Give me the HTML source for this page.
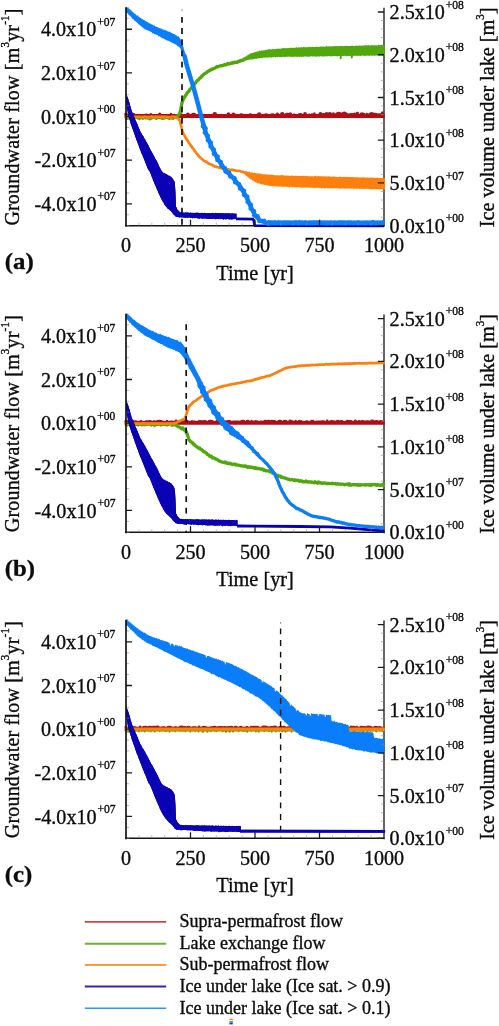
<!DOCTYPE html>
<html lang="en"><head><meta charset="utf-8"><title>Groundwater flow and ice volume under lake</title>
<style>html,body{margin:0;padding:0;background:#fff}body{width:499px;height:1026px;overflow:hidden}svg{display:block}text{white-space:pre;stroke:#0c0c0c;stroke-width:.34px}</style></head>
<body>
<svg width="499" height="1026" viewBox="0 0 499 1026" font-family="'Liberation Serif', 'Times New Roman', serif" fill="#0c0c0c">
<defs><clipPath id="clipP"><rect x="124.4" y="0" width="260.9" height="227.9"/></clipPath></defs>
<g transform="translate(0 0)">
<path d="M125.1 225.7H384.7" stroke="#141414" stroke-width="1.6" fill="none"/>
<path d="M384 7.8V226.6" stroke="#2a2a2a" stroke-width="1.45" fill="none"/>
<g clip-path="url(#clipP)">
<g fill="#b00d14"><rect x="124.6" y="113.95" width="260.2" height="4.1"/><ellipse cx="125.6" cy="114.15" rx="2.3" ry="1.41"/><ellipse cx="132.7" cy="114.15" rx="2.62" ry="1.34"/><ellipse cx="146.26" cy="114.15" rx="1.45" ry="0.68"/><ellipse cx="150.81" cy="114.15" rx="1.15" ry="1.22"/><ellipse cx="159.69" cy="114.15" rx="1.57" ry="1.58"/><ellipse cx="170.9" cy="114.15" rx="1.14" ry="1.48"/><ellipse cx="180.86" cy="114.15" rx="1.81" ry="0.91"/><ellipse cx="187.88" cy="114.15" rx="1.85" ry="1.66"/><ellipse cx="193.56" cy="114.15" rx="2.43" ry="1.4"/><ellipse cx="200.83" cy="114.15" rx="1.76" ry="0.85"/><ellipse cx="214.81" cy="114.15" rx="2.24" ry="2.15"/><ellipse cx="228.44" cy="114.15" rx="1.74" ry="1.92"/><ellipse cx="233.43" cy="114.15" rx="2.05" ry="1.59"/><ellipse cx="241.28" cy="114.15" rx="1.79" ry="0.85"/><ellipse cx="250.29" cy="114.15" rx="1.6" ry="0.93"/><ellipse cx="259.17" cy="114.15" rx="2.1" ry="1.95"/><ellipse cx="266.19" cy="114.15" rx="1.87" ry="0.94"/><ellipse cx="272.38" cy="114.15" rx="1.97" ry="0.81"/><ellipse cx="277.31" cy="114.15" rx="1.72" ry="1.66"/><ellipse cx="282.26" cy="114.15" rx="2.27" ry="2.27"/><ellipse cx="287.13" cy="114.15" rx="2.24" ry="1.41"/><ellipse cx="290.4" cy="114.15" rx="1.65" ry="1.87"/><ellipse cx="294.14" cy="114.15" rx="1.51" ry="0.69"/><ellipse cx="300.3" cy="114.15" rx="2.28" ry="1.08"/><ellipse cx="304.99" cy="114.15" rx="1.91" ry="2.22"/><ellipse cx="309.43" cy="114.15" rx="1.22" ry="0.7"/><ellipse cx="312.05" cy="114.15" rx="1.27" ry="0.9"/><ellipse cx="314.36" cy="114.15" rx="1.42" ry="1.82"/><ellipse cx="320.43" cy="114.15" rx="2.02" ry="2.12"/><ellipse cx="323.31" cy="114.15" rx="2.68" ry="1.16"/><ellipse cx="326.55" cy="114.15" rx="1.92" ry="2.22"/><ellipse cx="329.8" cy="114.15" rx="2.22" ry="2.26"/><ellipse cx="333.23" cy="114.15" rx="1.72" ry="2.01"/><ellipse cx="335.71" cy="114.15" rx="1.43" ry="1"/><ellipse cx="338.64" cy="114.15" rx="2.75" ry="2.36"/><ellipse cx="341.91" cy="114.15" rx="1.25" ry="1.8"/><ellipse cx="344.22" cy="114.15" rx="2.44" ry="2.68"/><ellipse cx="346.51" cy="114.15" rx="1.47" ry="1.6"/><ellipse cx="347.98" cy="114.15" rx="2.62" ry="0.72"/><ellipse cx="350.69" cy="114.15" rx="1.8" ry="0.88"/><ellipse cx="351.82" cy="114.15" rx="2.34" ry="1.03"/><ellipse cx="354.56" cy="114.15" rx="1.57" ry="1.65"/><ellipse cx="357.29" cy="114.15" rx="1.84" ry="2.75"/><ellipse cx="358.48" cy="114.15" rx="1.24" ry="0.68"/><ellipse cx="362.04" cy="114.15" rx="2.52" ry="1.79"/><ellipse cx="363.49" cy="114.15" rx="2.28" ry="1.15"/><ellipse cx="366.88" cy="114.15" rx="1.21" ry="1.33"/><ellipse cx="370.19" cy="114.15" rx="2.36" ry="1.22"/><ellipse cx="371.61" cy="114.15" rx="2.53" ry="2.15"/><ellipse cx="374.55" cy="114.15" rx="2.34" ry="1.38"/><ellipse cx="375.92" cy="114.15" rx="1.81" ry="1.27"/><ellipse cx="379.26" cy="114.15" rx="2.6" ry="0.9"/><ellipse cx="382.39" cy="114.15" rx="1.73" ry="2.78"/></g>
<path d="M124.6 117.61 L125.3 117.46 L126 117.61 L126.7 117.93 L127.4 118.34 L128.1 117.65 L128.8 117.8 L129.5 117.34 L130.2 117.66 L130.9 117.57 L131.6 117.51 L132.3 117.59 L133 117.77 L133.7 117.66 L134.4 117.62 L135.1 117.72 L135.8 117.29 L136.5 117.36 L137.2 117.43 L137.9 117.82 L138.6 117.95 L139.3 117.19 L140 117.98 L140.7 117.69 L141.4 117.58 L142.1 117.76 L142.8 117.42 L143.5 117.1 L144.2 117.4 L144.9 117.71 L145.6 117.85 L146.3 117.5 L147 117.9 L147.7 117.59 L148.4 118 L149.1 117.8 L149.8 117.57 L150.5 117.51 L151.2 118.34 L151.9 117.35 L152.6 117.43 L153.3 117.44 L154 117.48 L154.7 117.53 L155.4 117.24 L156.1 117.2 L156.8 117.25 L157.5 117.78 L158.2 117.51 L158.9 117.61 L159.6 117.37 L160.3 117.4 L161 117.83 L161.7 117.46 L162.4 117.25 L163.1 117.8 L163.8 118.03 L164.5 118.02 L165.2 117.32 L165.9 117.39 L166.6 117.16 L167.3 117.58 L168 117.69 L168.7 118.04 L169.4 117.38 L170.1 117.95 L170.8 117.82 L171.5 118.01 L172.2 117.75 L172.9 117.19 L173.6 117.99 L174.3 117.53 L175 116.82 L175.7 116.91 L176.4 117.05 L177.1 116.18 L177.8 115.66 L178.5 115.14 L179.2 114.53 L179.9 113.12 L180.6 110 L181.3 106.36 L182 102.65 L182.7 101.03 L183.4 99.05 L184.1 97.73 L184.8 96.71 L185.5 95.54 L186.2 94.84 L186.9 93.27 L187.6 92.43 L188.3 91.55 L189 91.19 L189.7 89.66 L190.4 88.87 L191.1 88.19 L191.8 87.39 L192.5 86.4 L193.2 85.8 L193.9 85.22 L194.6 84.01 L195.3 83.11 L196 82.31 L196.7 81.04 L197.4 80.7 L198.1 80 L198.8 79.58 L199.5 78.5 L200.2 77.69 L200.9 77.6 L201.6 76.33 L202.3 75.98 L203 74.98 L203.7 74.38 L204.4 73.96 L205.1 73.44 L205.8 73.11 L206.5 72.75 L207.2 71.87 L207.9 71.56 L208.6 71.04 L209.3 70.47 L210 70.51 L210.7 69.65 L211.4 69.28 L212.1 69.52 L212.8 68.94 L213.5 68.59 L214.2 68.49 L214.9 68.14 L215.6 67.69 L216.3 67.13 L217 66.44 L217.7 66.89 L218.4 66.5 L219.1 66.22 L219.8 66.01 L220.5 65.69 L221.2 65.91 L221.9 65.68 L222.6 65.47 L223.3 65.18 L224 64.91 L224.7 64.66 L225.4 65.01 L226.1 64.52 L226.8 64.34 L227.5 63.57 L228.2 64.12 L228.9 63.63 L229.6 63.74 L230.3 63.71 L231 63.16 L231.7 63.22 L232.4 62.56 L233.1 63.07 L233.8 62.67 L234.5 62.31 L235.2 62.12 L235.9 62.49 L236.6 62.12 L237.3 62.31 L238 61.41 L238.7 61.54 L239.4 61.02 L240.1 61.27 L240.8 60.41 L241.5 60.47 L242.2 60.27 L242.9 60.26 L243.6 59.51 L244.3 58.91 L245 58.74 L245.7 58.16 L246.4 58.23" fill="none" stroke="#50a80d" stroke-width="3.3" stroke-linejoin="round" stroke-linecap="butt"/>
<g fill="#50a80d"><circle cx="126.24" cy="119.14" r="1.06"/><circle cx="129.34" cy="119.1" r="0.73"/><circle cx="133.7" cy="119.33" r="0.85"/><circle cx="139.33" cy="119.03" r="1.13"/><circle cx="142.93" cy="119.09" r="0.95"/><circle cx="149.81" cy="119.38" r="1.19"/><circle cx="156.23" cy="119.19" r="0.9"/><circle cx="162.44" cy="119.14" r="1.13"/><circle cx="169.55" cy="119.38" r="0.96"/><circle cx="173.3" cy="119.15" r="0.84"/></g>
<polygon fill="#50a80d" points="245,56.95 245.5,56.93 246,56.45 246.5,56.26 247,55.59 247.5,55.36 248,55.06 248.5,54.79 249,54.41 249.5,54.05 250,53.71 250.5,53.58 251,53.25 251.5,53.06 252,53.28 252.5,53.11 253,52.85 253.5,52.73 254,52.26 254.5,52.21 255,51.95 255.5,51.99 256,51.82 256.5,51.88 257,51.46 257.5,51.53 258,51.18 258.5,51.35 259,51.06 259.5,50.54 260,50.38 260.5,50.98 261,50.89 261.5,50.37 262,50.31 262.5,50.62 263,50.63 263.5,50.29 264,50.27 264.5,50.33 265,50.27 265.5,50.02 266,49.77 266.5,49.99 267,49.46 267.5,49.94 268,49.46 268.5,49.29 269,49.28 269.5,48.91 270,49.26 270.5,49.4 271,49.39 271.5,49.2 272,49.38 272.5,48.78 273,49.22 273.5,49.3 274,49.19 274.5,48.92 275,49.14 275.5,48.98 276,48.76 276.5,49.03 277,48.78 277.5,48.84 278,48.74 278.5,48.64 279,48.54 279.5,48.76 280,48.63 280.5,48.65 281,48.31 281.5,48.7 282,48.43 282.5,48.12 283,47.99 283.5,48.19 284,48.53 284.5,47.67 285,47.89 285.5,48.31 286,48.27 286.5,48.34 287,48.34 287.5,48.1 288,47.89 288.5,48.21 289,48.07 289.5,47.94 290,47.72 290.5,47.56 291,48.06 291.5,47.92 292,47.47 292.5,48.03 293,47.9 293.5,47.44 294,47.92 294.5,47.93 295,47.58 295.5,47.64 296,47.41 296.5,46.65 297,47.7 297.5,47.68 298,47.63 298.5,47.34 299,47.33 299.5,47.44 300,47.15 300.5,47.56 301,47.13 301.5,47.29 302,47.46 302.5,47.21 303,47.23 303.5,47.04 304,46.79 304.5,47.39 305,46.6 305.5,47.32 306,47.25 306.5,47.2 307,47.34 307.5,47.18 308,46.56 308.5,47.23 309,47.04 309.5,47.06 310,46.78 310.5,46.97 311,47.22 311.5,46.78 312,47.15 312.5,46.49 313,46.94 313.5,46.94 314,47.06 314.5,47.09 315,47.07 315.5,46.79 316,46.76 316.5,46.71 317,46.92 317.5,46.57 318,46.68 318.5,46.91 319,46.67 319.5,46.86 320,46.81 320.5,46.52 321,46.59 321.5,46.51 322,46.4 322.5,46.39 323,46.62 323.5,46.57 324,46.67 324.5,46.63 325,46.76 325.5,46.58 326,46.51 326.5,45.62 327,46.49 327.5,46.58 328,46.38 328.5,46.28 329,46.4 329.5,46.42 330,46.1 330.5,46.2 331,46.49 331.5,46.5 332,46.21 332.5,46.04 333,46.43 333.5,46.36 334,46.26 334.5,46.03 335,46.14 335.5,46.04 336,46.23 336.5,45.71 337,46.4 337.5,46.03 338,45.99 338.5,46.3 339,45.92 339.5,46.04 340,45.93 340.5,46.03 341,45.95 341.5,46.09 342,45.74 342.5,46.26 343,45.92 343.5,46.1 344,46.22 344.5,45.97 345,45.96 345.5,45.5 346,46.04 346.5,46.18 347,45.55 347.5,46.1 348,46.12 348.5,45.91 349,45.9 349.5,45.91 350,46.03 350.5,45.8 351,45.97 351.5,45.8 352,45.47 352.5,45.86 353,45.73 353.5,45.93 354,45.93 354.5,45.9 355,45.79 355.5,45.66 356,45.64 356.5,45.72 357,45.57 357.5,45.73 358,45.68 358.5,45.48 359,45.67 359.5,45.48 360,45.81 360.5,45.66 361,45.55 361.5,45.55 362,45.7 362.5,45.78 363,45.12 363.5,45.68 364,45.66 364.5,45.26 365,45.34 365.5,45.35 366,45.44 366.5,45.12 367,45.61 367.5,45.62 368,45.35 368.5,44.82 369,45.47 369.5,45.44 370,45.55 370.5,45.47 371,45.36 371.5,45.28 372,45.42 372.5,44.87 373,45.44 373.5,45.23 374,45.4 374.5,44.91 375,45.16 375.5,45.44 376,45.43 376.5,45.16 377,45.41 377.5,45.19 378,44.91 378.5,45.01 379,45.32 379.5,45.33 380,45.07 380.5,45.07 381,45.07 381.5,44.75 382,44.99 382.5,44.85 383,45.02 383.5,45.18 384,44.64 384.5,45.01 385,44.91 385,55.79 384.5,55.73 384,55.66 383.5,56.04 383,56.17 382.5,55.89 382,55.59 381.5,55.37 381,55.47 380.5,55.32 380,55.67 379.5,55.68 379,55.54 378.5,55.34 378,55.38 377.5,55.43 377,55.39 376.5,55.42 376,55.45 375.5,55.57 375,55.52 374.5,56.23 374,55.87 373.5,55.4 373,55.44 372.5,55.65 372,55.5 371.5,55.63 371,55.85 370.5,55.55 370,55.55 369.5,55.98 369,55.59 368.5,55.76 368,56 367.5,55.47 367,55.76 366.5,55.58 366,55.65 365.5,55.79 365,56.17 364.5,55.72 364,55.77 363.5,55.78 363,55.57 362.5,55.6 362,55.84 361.5,55.74 361,55.69 360.5,55.9 360,55.92 359.5,55.85 359,55.79 358.5,55.78 358,56.28 357.5,55.73 357,55.85 356.5,55.84 356,55.72 355.5,55.98 355,55.85 354.5,55.7 354,55.69 353.5,55.65 353,56.22 352.5,55.98 352,56.15 351.5,56.06 351,55.82 350.5,55.95 350,55.88 349.5,56.06 349,55.79 348.5,56.24 348,55.96 347.5,55.95 347,55.75 346.5,56.19 346,56.85 345.5,55.79 345,55.87 344.5,55.83 344,56.33 343.5,55.82 343,56.06 342.5,56.02 342,56.12 341.5,56.12 341,55.87 340.5,55.93 340,55.94 339.5,55.91 339,55.9 338.5,56.3 338,55.91 337.5,56.58 337,56.27 336.5,56.14 336,56.19 335.5,56 335,56.06 334.5,56.27 334,56 333.5,55.96 333,56.15 332.5,56.19 332,56.37 331.5,56.42 331,56.4 330.5,56.04 330,56.52 329.5,56.05 329,56.29 328.5,56.05 328,56.34 327.5,56.54 327,56.13 326.5,56.29 326,56.15 325.5,56.51 325,56.29 324.5,56.47 324,56.27 323.5,56.72 323,56.55 322.5,56.69 322,56.18 321.5,56.15 321,56.48 320.5,56.37 320,56.28 319.5,56.79 319,56.79 318.5,56.21 318,56.24 317.5,56.78 317,56.33 316.5,56.68 316,56.65 315.5,56.77 315,56.39 314.5,56.41 314,56.29 313.5,56.49 313,56.51 312.5,56.54 312,56.57 311.5,56.27 311,56.26 310.5,56.3 310,56.72 309.5,56.59 309,57.04 308.5,56.84 308,56.5 307.5,56.52 307,56.85 306.5,56.55 306,56.93 305.5,56.35 305,56.5 304.5,56.57 304,56.44 303.5,56.99 303,56.7 302.5,56.4 302,57.29 301.5,56.77 301,56.47 300.5,56.94 300,56.69 299.5,56.92 299,56.65 298.5,56.62 298,56.59 297.5,57.22 297,57.06 296.5,56.74 296,56.73 295.5,56.55 295,56.75 294.5,56.48 294,56.95 293.5,56.63 293,57.33 292.5,56.6 292,57.54 291.5,56.53 291,57.04 290.5,56.93 290,56.62 289.5,56.61 289,56.69 288.5,56.84 288,56.58 287.5,56.96 287,56.6 286.5,56.69 286,57.08 285.5,56.63 285,56.64 284.5,57.21 284,56.95 283.5,56.67 283,57.1 282.5,56.73 282,56.71 281.5,57.26 281,57.21 280.5,57.02 280,56.91 279.5,57.37 279,56.87 278.5,56.76 278,57 277.5,57.21 277,57.08 276.5,56.9 276,57.15 275.5,57.71 275,56.87 274.5,57.02 274,57.04 273.5,57.19 273,57.37 272.5,57.09 272,57.68 271.5,57.44 271,57.66 270.5,57.29 270,57.06 269.5,57.54 269,57.16 268.5,57.64 268,57.36 267.5,57.6 267,57.66 266.5,57.48 266,57.51 265.5,57.63 265,57.61 264.5,57.73 264,57.54 263.5,57.6 263,57.74 262.5,58.11 262,58.54 261.5,57.86 261,58.02 260.5,58.11 260,58.2 259.5,58.47 259,58.28 258.5,58.26 258,58.58 257.5,58.57 257,58.57 256.5,59.05 256,58.76 255.5,58.74 255,59.09 254.5,58.78 254,59.18 253.5,58.97 253,59.1 252.5,59.91 252,59.39 251.5,59.3 251,59.66 250.5,59.29 250,59.39 249.5,59.87 249,59.57 248.5,59.84 248,60.27 247.5,60.06 247,60.1 246.5,60.25 246,60.64 245.5,60.4 245,60.68"/>
<path d="M340.7 55v3.2M351.8 55v2.6" stroke="#50a80d" stroke-width="2" stroke-linecap="round" fill="none"/>
<path d="M124.6 116.78 L125.3 116.99 L126 116.83 L126.7 117.27 L127.4 116.9 L128.1 116.91 L128.8 116.77 L129.5 116.97 L130.2 117.08 L130.9 116.9 L131.6 116.99 L132.3 116.73 L133 116.97 L133.7 117.03 L134.4 117.12 L135.1 116.93 L135.8 117.05 L136.5 117.08 L137.2 117.13 L137.9 117.08 L138.6 116.89 L139.3 116.9 L140 117.03 L140.7 117 L141.4 117.17 L142.1 117.11 L142.8 117.12 L143.5 117.16 L144.2 116.9 L144.9 116.9 L145.6 116.87 L146.3 117.1 L147 117.2 L147.7 116.94 L148.4 116.94 L149.1 117.15 L149.8 117.08 L150.5 116.9 L151.2 116.71 L151.9 116.83 L152.6 117.28 L153.3 116.97 L154 117.07 L154.7 116.91 L155.4 116.72 L156.1 117 L156.8 117.07 L157.5 116.8 L158.2 116.95 L158.9 116.94 L159.6 116.95 L160.3 116.97 L161 117.07 L161.7 116.7 L162.4 117.23 L163.1 117.08 L163.8 116.86 L164.5 116.73 L165.2 117.2 L165.9 116.98 L166.6 117.05 L167.3 116.98 L168 117.06 L168.7 117.02 L169.4 117.23 L170.1 117.24 L170.8 117.12 L171.5 116.95 L172.2 116.96 L172.9 116.79 L173.6 116.89 L174.3 116.96 L175 117.34 L175.7 117.38 L176.4 117.81 L177.1 118.04 L177.8 118.25 L178.5 118.92 L179.2 119.64 L179.9 120.63 L180.6 123.66 L181.3 126.52 L182 129.67 L182.7 132.3 L183.4 133.62 L184.1 134.77 L184.8 136.21 L185.5 137.44 L186.2 138.58 L186.9 139.77 L187.6 140.49 L188.3 141.85 L189 142.99 L189.7 143.8 L190.4 144.9 L191.1 146.02 L191.8 146.74 L192.5 147.95 L193.2 148.51 L193.9 149.53 L194.6 150.87 L195.3 151.59 L196 152.74 L196.7 153.65 L197.4 154.21 L198.1 155.27 L198.8 155.94 L199.5 157 L200.2 157.48 L200.9 158.17 L201.6 158.76 L202.3 159.3 L203 159.87 L203.7 160.57 L204.4 160.73 L205.1 161.35 L205.8 161.62 L206.5 161.96 L207.2 162.51 L207.9 163.12 L208.6 163.23 L209.3 163.92 L210 164.25 L210.7 164.42 L211.4 164.51 L212.1 164.74 L212.8 165.37 L213.5 165.82 L214.2 166.07 L214.9 166.46 L215.6 166.58 L216.3 166.61 L217 167.09 L217.7 167.13 L218.4 167.25 L219.1 167.67 L219.8 167.69 L220.5 167.79 L221.2 168.1 L221.9 168.42 L222.6 168.61 L223.3 168.56 L224 168.59 L224.7 168.91 L225.4 168.84 L226.1 169.08 L226.8 169.13 L227.5 169.35 L228.2 169.31 L228.9 169.53 L229.6 169.72 L230.3 169.81 L231 169.86 L231.7 169.75 L232.4 170.13 L233.1 169.89 L233.8 170.25 L234.5 170.43 L235.2 170.44 L235.9 170.63 L236.6 170.75 L237.3 170.8 L238 170.92 L238.7 171.02 L239.4 170.95 L240.1 171.04 L240.8 171.47 L241.5 171.75 L242.2 171.9 L242.9 172.14 L243.6 172.01 L244.3 172.55 L245 172.55 L245.7 173.09 L246.4 173.4 L247.1 173.82 L247.8 174.21" fill="none" stroke="#ff7f0c" stroke-width="2.7" stroke-linejoin="round" stroke-linecap="butt"/>
<polygon fill="#ff7f0c" points="245,171.37 245.5,171.35 246,171.34 246.5,171.31 247,171.65 247.5,171.49 248,171.74 248.5,172.01 249,171.57 249.5,171.73 250,172.37 250.5,172.41 251,172.46 251.5,172.55 252,172.45 252.5,172.2 253,172.78 253.5,172.9 254,172.71 254.5,172.8 255,173.16 255.5,173.04 256,172.99 256.5,173.46 257,173.43 257.5,173.22 258,173.52 258.5,173.4 259,173.25 259.5,173.35 260,173.7 260.5,173.74 261,173.86 261.5,173.81 262,174.04 262.5,174.16 263,174.18 263.5,174.2 264,174.4 264.5,174.26 265,174.34 265.5,174.25 266,174.55 266.5,174.15 267,174.6 267.5,174.72 268,174.6 268.5,174.37 269,174.9 269.5,174.69 270,174.46 270.5,174.93 271,174.56 271.5,174.69 272,174.42 272.5,174.64 273,175.12 273.5,174.9 274,175.04 274.5,175.16 275,175.16 275.5,175.13 276,175.35 276.5,175.13 277,175.21 277.5,175.35 278,175.48 278.5,175.27 279,175.16 279.5,175.39 280,175.31 280.5,175.23 281,175.48 281.5,175.25 282,174.83 282.5,175.09 283,175.07 283.5,175.52 284,175.55 284.5,175.69 285,175.29 285.5,175.76 286,175.72 286.5,175.56 287,175.62 287.5,175.57 288,175.7 288.5,175.78 289,175.56 289.5,175.86 290,175.77 290.5,175.77 291,175.76 291.5,175.76 292,175.74 292.5,175.35 293,175.53 293.5,175.92 294,175.91 294.5,175.71 295,175.98 295.5,175.39 296,175.94 296.5,175.85 297,175.94 297.5,175.51 298,175.98 298.5,175.96 299,176.03 299.5,175.95 300,175.81 300.5,176.17 301,175.86 301.5,176.14 302,175.87 302.5,175.83 303,175.95 303.5,175.81 304,176.18 304.5,176.03 305,175.93 305.5,175.83 306,175.76 306.5,176.25 307,176.12 307.5,176.05 308,176.36 308.5,176.09 309,176.17 309.5,176.38 310,176.35 310.5,176.28 311,176.06 311.5,176.39 312,176.04 312.5,176.13 313,176.43 313.5,176.44 314,175.89 314.5,176.17 315,175.86 315.5,176.06 316,175.82 316.5,176.09 317,176.42 317.5,176.4 318,175.97 318.5,175.79 319,176.15 319.5,176.24 320,176.34 320.5,176.21 321,176.44 321.5,175.89 322,176.34 322.5,176.44 323,176.57 323.5,176.31 324,176.28 324.5,176.5 325,176.59 325.5,176.35 326,176.3 326.5,176.58 327,176.61 327.5,176.59 328,176.54 328.5,176.58 329,175.81 329.5,176.56 330,176.53 330.5,176.68 331,176.65 331.5,176.69 332,176.66 332.5,176.65 333,176.34 333.5,176.66 334,176.44 334.5,176.42 335,176.8 335.5,176.7 336,176.93 336.5,176.65 337,176.88 337.5,176.95 338,176.98 338.5,176.63 339,176.89 339.5,176.83 340,176.79 340.5,176.6 341,177.09 341.5,177.06 342,176.99 342.5,176.97 343,176.85 343.5,177.11 344,176.88 344.5,176.95 345,176.76 345.5,176.85 346,177.15 346.5,177.01 347,176.98 347.5,176.73 348,176.92 348.5,177.01 349,177.12 349.5,177.17 350,177.12 350.5,177.03 351,177.08 351.5,177.34 352,177.11 352.5,177.33 353,176.7 353.5,177.04 354,177.36 354.5,177.14 355,177.23 355.5,177.39 356,177.29 356.5,177.42 357,176.64 357.5,177.22 358,177.51 358.5,177.52 359,177.47 359.5,177.42 360,177.57 360.5,177.59 361,177.43 361.5,177.51 362,177.37 362.5,177.43 363,177.36 363.5,177.27 364,177.62 364.5,177.36 365,177.72 365.5,177.5 366,177.64 366.5,177.64 367,177.15 367.5,177.45 368,177.42 368.5,177.77 369,177.66 369.5,177.75 370,177.53 370.5,177.63 371,177.5 371.5,177.64 372,177.61 372.5,177.38 373,177.55 373.5,177.9 374,177.67 374.5,177.83 375,177.94 375.5,177.69 376,177.89 376.5,177.69 377,177.61 377.5,177.8 378,177.6 378.5,177.89 379,178.02 379.5,177.96 380,177.91 380.5,177.96 381,178.07 381.5,178.02 382,178.08 382.5,177.74 383,178.07 383.5,177.9 384,178.02 384.5,178.13 385,178.06 385,189.19 384.5,189.89 384,189.47 383.5,189.36 383,189.53 382.5,189.27 382,189.18 381.5,189.16 381,189.23 380.5,189.24 380,189.56 379.5,189.09 379,189.16 378.5,189.22 378,189.46 377.5,189.06 377,189.14 376.5,189.36 376,188.98 375.5,189.26 375,189.16 374.5,189.06 374,189.27 373.5,189.03 373,189.12 372.5,189.06 372,189.94 371.5,189 371,189.18 370.5,189 370,188.97 369.5,189.36 369,189.09 368.5,189.12 368,188.81 367.5,188.87 367,188.77 366.5,189.08 366,189.04 365.5,188.75 365,188.73 364.5,188.93 364,188.81 363.5,188.77 363,189.32 362.5,188.81 362,188.94 361.5,188.86 361,188.77 360.5,188.71 360,188.94 359.5,188.99 359,188.59 358.5,188.82 358,188.72 357.5,188.77 357,188.79 356.5,188.63 356,188.65 355.5,188.59 355,188.59 354.5,188.82 354,189.26 353.5,188.83 353,188.58 352.5,188.62 352,188.73 351.5,188.6 351,188.63 350.5,188.81 350,188.62 349.5,188.58 349,188.5 348.5,188.48 348,188.56 347.5,188.68 347,188.65 346.5,188.34 346,188.47 345.5,188.51 345,188.69 344.5,188.51 344,188.74 343.5,188.53 343,188.36 342.5,188.43 342,188.28 341.5,188.75 341,188.32 340.5,188.67 340,188.52 339.5,188.69 339,188.37 338.5,188.54 338,188.19 337.5,188.18 337,188.27 336.5,188.21 336,188.26 335.5,188.14 335,188.12 334.5,188.18 334,188.74 333.5,188.19 333,188.18 332.5,188.37 332,188.18 331.5,188.38 331,188.54 330.5,188.26 330,188.34 329.5,188.39 329,188.3 328.5,188.12 328,188.22 327.5,188.37 327,188.28 326.5,188.06 326,187.92 325.5,187.99 325,189.02 324.5,188.26 324,188.06 323.5,188.41 323,187.88 322.5,188.11 322,188.27 321.5,188.29 321,188.55 320.5,187.83 320,187.8 319.5,188.01 319,187.76 318.5,188.19 318,187.83 317.5,187.67 317,187.76 316.5,187.82 316,187.65 315.5,187.99 315,187.93 314.5,187.91 314,187.92 313.5,187.63 313,187.63 312.5,187.81 312,188.25 311.5,187.84 311,187.65 310.5,187.53 310,187.72 309.5,187.56 309,188.01 308.5,187.55 308,187.43 307.5,187.63 307,187.45 306.5,187.39 306,187.53 305.5,187.47 305,187.7 304.5,187.42 304,187.45 303.5,187.9 303,187.32 302.5,187.74 302,187.39 301.5,187.8 301,187.6 300.5,187.64 300,187.6 299.5,187.58 299,187.2 298.5,187.15 298,187.2 297.5,187.34 297,187.38 296.5,187.24 296,187.45 295.5,187.27 295,187.25 294.5,187.3 294,187.24 293.5,187.1 293,187.14 292.5,187.26 292,186.95 291.5,187.21 291,186.86 290.5,186.84 290,187.22 289.5,187.41 289,187.45 288.5,186.78 288,187.3 287.5,187.07 287,186.76 286.5,186.82 286,186.76 285.5,186.71 285,186.63 284.5,186.77 284,186.6 283.5,186.89 283,186.75 282.5,186.88 282,186.73 281.5,186.62 281,186.78 280.5,186.53 280,186.52 279.5,186.53 279,186.52 278.5,186.68 278,186.64 277.5,186.22 277,186.38 276.5,186.19 276,186.35 275.5,186.38 275,186.13 274.5,186.11 274,186.58 273.5,186.08 273,186.55 272.5,186.26 272,185.76 271.5,185.95 271,186.12 270.5,185.65 270,185.75 269.5,185.62 269,185.89 268.5,185.84 268,185.43 267.5,185.33 267,185.46 266.5,185.32 266,184.93 265.5,185 265,184.74 264.5,185.08 264,184.68 263.5,184.8 263,184.38 262.5,184.34 262,184.25 261.5,184.39 261,184.21 260.5,184.32 260,183.65 259.5,183.37 259,183.68 258.5,183.22 258,183.13 257.5,183.19 257,182.63 256.5,182.4 256,182.44 255.5,182.32 255,181.66 254.5,181.87 254,181.29 253.5,180.86 253,180.53 252.5,181 252,179.87 251.5,179.53 251,179.47 250.5,179.2 250,178.78 249.5,178.74 249,177.85 248.5,177.47 248,177.2 247.5,176.56 247,176.56 246.5,175.85 246,175.98 245.5,174.95 245,174.93"/>
<polygon fill="#0a00b4" points="126,95.21 126.5,95.49 127,95.7 127.5,97.22 128,98.36 128.5,99.66 129,101.63 129.5,102.77 130,104.99 130.5,106.7 131,108.41 131.5,110.06 132,111.91 132.5,112.65 133,114.16 133.5,115.38 134,116.59 134.5,117.46 135,118.95 135.5,120.33 136,121.04 136.5,122.26 137,123.82 137.5,124.12 138,125.84 138.5,127.19 139,128.39 139.5,129.37 140,130.81 140.5,131.8 141,132.66 141.5,133.14 142,134.47 142.5,135.34 143,136.04 143.5,136.38 144,137.74 144.5,138.64 145,138.99 145.5,140.5 146,141.43 146.5,142.03 147,142.98 147.5,143.78 148,144.83 148.5,145.57 149,146.78 149.5,147.72 150,148.98 150.5,149.73 151,150.82 151.5,151.62 152,152.44 152.5,153.16 153,154.18 153.5,155.26 154,155.92 154.5,156.89 155,158.17 155.5,158.9 156,159.74 156.5,160.61 157,161.53 157.5,162.51 158,163.6 158.5,164.74 159,165.95 159.5,166.95 160,167.82 160.5,168.95 161,169.88 161.5,170.85 162,171.33 162.5,171.93 163,172.6 163.5,172.99 164,173.08 164.5,173.12 165,173.87 165.5,173.76 166,174.35 166.5,174.04 167,174.77 167.5,174.7 168,175.39 168.5,175.4 169,176 169.5,175.43 170,176.38 170.5,176.5 171,176.77 171.5,177.27 172,177.88 172.5,178.39 173,178.98 173.5,179.95 174,180.92 174.5,181.58 175,185.36 175.5,192.95 176,206.97 176.5,207.28 177,208.71 177.5,209.97 178,210.15 178.5,210.78 179,211.21 179.5,211.8 180,212.2 180.5,212.43 181,212.53 181.5,212.06 182,212.43 182.5,212.76 183,212.64 183.5,212.56 184,212.64 184.5,212.82 185,212.56 185.5,212.68 186,212.18 186.5,212.84 187,212.56 187.5,212.85 188,212.15 188.5,212.84 189,212.91 189.5,212.97 190,212.43 190.5,212.43 191,212.94 191.5,212.68 192,212.97 192.5,212.76 193,213.03 193.5,212.94 194,212.81 194.5,212.99 195,212.92 195.5,212.84 196,212.97 196.5,212.82 197,212.52 197.5,213 198,212.54 198.5,212.91 199,213.02 199.5,212.92 200,213.1 200.5,213.06 201,212.88 201.5,213.02 202,212.85 202.5,212.94 203,212.99 203.5,213.02 204,213.14 204.5,212.66 205,212.89 205.5,213.18 206,213 206.5,212.99 207,213.19 207.5,213.18 208,213 208.5,213.17 209,213 209.5,213 210,213.13 210.5,213.2 211,213.15 211.5,212.91 212,213.26 212.5,212.69 213,213.11 213.5,213.2 214,213.34 214.5,213.17 215,213.33 215.5,212.79 216,213.17 216.5,213.11 217,213.05 217.5,213.42 218,213.25 218.5,213.02 219,213.1 219.5,213.36 220,213.32 220.5,213.07 221,213.49 221.5,213.08 222,213.43 222.5,213.49 223,213.12 223.5,213.27 224,213.5 224.5,213.61 225,213.25 225.5,213.61 226,213.26 226.5,213.35 227,213.59 227.5,213.51 228,213.33 228.5,213.62 229,212.94 229.5,213.55 230,213.44 230.5,213.56 231,213.73 231.5,213.61 232,213.3 232.5,213.45 233,213.56 233.5,213.46 234,213.78 234.5,213.57 235,213.8 235.5,213.81 236,213.78 236.5,213.29 236.5,219.73 236,219.01 235.5,219.12 235,219.24 234.5,219.12 234,219.01 233.5,219.2 233,219.07 232.5,219.43 232,219.21 231.5,219.6 231,219.46 230.5,219.12 230,219.73 229.5,219.46 229,218.95 228.5,219.27 228,218.9 227.5,218.97 227,219 226.5,219.25 226,219.14 225.5,219.27 225,219.18 224.5,218.87 224,219.32 223.5,219.92 223,218.95 222.5,219.26 222,218.79 221.5,218.74 221,219.03 220.5,219.22 220,218.74 219.5,218.89 219,218.84 218.5,219.23 218,218.75 217.5,219.07 217,218.77 216.5,219.33 216,218.64 215.5,219.53 215,218.76 214.5,219.08 214,218.56 213.5,218.69 213,218.72 212.5,218.77 212,218.8 211.5,218.64 211,218.66 210.5,218.73 210,219.12 209.5,218.66 209,218.94 208.5,219.07 208,218.43 207.5,218.94 207,218.49 206.5,219.01 206,218.39 205.5,218.41 205,218.4 204.5,218.46 204,218.35 203.5,218.62 203,218.7 202.5,218.46 202,218.43 201.5,218.41 201,218.36 200.5,218.33 200,218.31 199.5,218.78 199,218.64 198.5,218.3 198,218.46 197.5,218.27 197,218.05 196.5,218 196,218.08 195.5,217.99 195,217.93 194.5,218.2 194,217.94 193.5,217.76 193,217.75 192.5,218.38 192,217.88 191.5,217.71 191,217.85 190.5,217.66 190,217.59 189.5,217.59 189,217.47 188.5,217.57 188,217.72 187.5,217.58 187,217.85 186.5,217.33 186,218.13 185.5,217.6 185,217.87 184.5,217.8 184,217.21 183.5,217.4 183,217.49 182.5,217.56 182,217.1 181.5,217.5 181,217.56 180.5,217.26 180,217.11 179.5,217.43 179,217.73 178.5,217.11 178,216.95 177.5,216.85 177,216.81 176.5,216.93 176,216.85 175.5,216.37 175,216.31 174.5,215.04 174,214.96 173.5,214.62 173,213.52 172.5,213.14 172,212.31 171.5,211.9 171,211.11 170.5,210.68 170,210.49 169.5,209.85 169,209.33 168.5,209.27 168,208.74 167.5,208.55 167,207.76 166.5,207 166,206.58 165.5,205.98 165,205.12 164.5,204.7 164,203.7 163.5,202.53 163,201.77 162.5,201.16 162,200.12 161.5,199.5 161,198.13 160.5,197.26 160,196.14 159.5,195.05 159,194.11 158.5,192.93 158,191.53 157.5,190.41 157,189.48 156.5,188.17 156,187.04 155.5,185.86 155,184.67 154.5,183.87 154,182.33 153.5,181.17 153,180.34 152.5,178.25 152,177.47 151.5,175.91 151,174.59 150.5,173.39 150,172 149.5,171.33 149,170.8 148.5,169.78 148,169.26 147.5,168.03 147,166.66 146.5,165.41 146,164.09 145.5,162.93 145,161.65 144.5,160.3 144,159.06 143.5,157.79 143,156.82 142.5,155.32 142,154 141.5,153.46 141,151.98 140.5,150.61 140,149.62 139.5,147.98 139,146.68 138.5,145.09 138,144.01 137.5,142.52 137,141.14 136.5,139.95 136,138.68 135.5,136.95 135,135.63 134.5,134.22 134,132.76 133.5,131.53 133,129.82 132.5,129 132,127.72 131.5,125.49 131,124.5 130.5,122.92 130,120.97 129.5,119.24 129,118.15 128.5,116.31 128,114.1 127.5,111.01 127,108.29 126.5,104.54 126,100.14"/>
<path d="M236 218.9 L254 219.2" fill="none" stroke="#0a00b4" stroke-width="2.8" stroke-linejoin="round" stroke-linecap="butt"/>
<path d="M253.5 219.2 L254.6 225.6 L384 225.9" fill="none" stroke="#0a00b4" stroke-width="2.6" stroke-linejoin="round" stroke-linecap="butt"/>
<polygon fill="#0a7dfa" points="126,6.57 126.5,7.08 127,7.64 127.5,7.99 128,8.1 128.5,8.32 129,8.55 129.5,9.22 130,9.36 130.5,9.53 131,10.77 131.5,10.31 132,11.44 132.5,11.86 133,12.21 133.5,12.71 134,13.01 134.5,13.78 135,13.87 135.5,13.97 136,14.97 136.5,15.2 137,15.7 137.5,15.35 138,15.57 138.5,16.48 139,17.22 139.5,17.12 140,17.69 140.5,17.64 141,18.36 141.5,18.63 142,18.8 142.5,18.94 143,19.44 143.5,19.94 144,19.84 144.5,20.29 145,20.68 145.5,20.9 146,21.38 146.5,21.46 147,21.89 147.5,21.95 148,22.42 148.5,22.7 149,23.03 149.5,23.4 150,23.6 150.5,23.62 151,24.03 151.5,24.34 152,24.5 152.5,24.52 153,25.16 153.5,25.45 154,25.49 154.5,25.29 155,25.77 155.5,26.52 156,26.77 156.5,26.76 157,26.85 157.5,27.14 158,27.15 158.5,27.94 159,27.61 159.5,28.33 160,28.22 160.5,28.53 161,28.47 161.5,28.74 162,29.18 162.5,29.28 163,29.28 163.5,29.79 164,30.02 164.5,30.17 165,29.7 165.5,30.16 166,30.52 166.5,30.94 167,30.22 167.5,31.46 168,31.28 168.5,31.69 169,31.83 169.5,31.66 170,31.52 170.5,32.45 171,32.43 171.5,32.98 172,33.07 172.5,33.52 173,33.75 173.5,33.89 174,34.11 174.5,34.3 175,34.52 175.5,35.15 176,34.97 176.5,35.43 177,36.14 177.5,36.17 178,36.57 178.5,36.02 179,37.5 179.5,37.62 180,38.44 180.5,39.14 181,39.99 181.5,41.07 182,42.51 182.5,43.75 183,45.41 183.5,47.49 184,49.4 184.5,51.08 185,52.39 185.5,54.44 186,56.27 186.5,58.18 187,59.96 187,71.39 186.5,69.36 186,68.21 185.5,66.11 185,64.03 184.5,62.14 184,60.62 183.5,58.46 183,56.05 182.5,54.15 182,52.57 181.5,50.69 181,49.95 180.5,48.88 180,47.8 179.5,47.6 179,47.03 178.5,46.74 178,46.24 177.5,46.05 177,45.69 176.5,44.86 176,44.71 175.5,44.27 175,43.88 174.5,44.13 174,43.85 173.5,43.11 173,43.22 172.5,42.96 172,42.47 171.5,42.52 171,42.2 170.5,41.88 170,41.56 169.5,41.22 169,41.08 168.5,40.87 168,40.68 167.5,40.67 167,40.23 166.5,40.21 166,40.2 165.5,39.71 165,39.05 164.5,39.14 164,39.09 163.5,38.36 163,38.24 162.5,37.73 162,38.91 161.5,37.35 161,37.73 160.5,36.63 160,36.74 159.5,36.21 159,36.17 158.5,36.42 158,35.28 157.5,35.12 157,35.1 156.5,34.57 156,35.16 155.5,34.01 155,34.12 154.5,34.2 154,33.81 153.5,33.14 153,33.41 152.5,33.53 152,32.88 151.5,32.04 151,31.72 150.5,32.11 150,31.37 149.5,31.08 149,31.27 148.5,30.87 148,30.34 147.5,30.29 147,30.27 146.5,30.02 146,29.52 145.5,29.35 145,29.62 144.5,29.15 144,28.4 143.5,28.47 143,27.58 142.5,27.61 142,27.08 141.5,26.54 141,26.32 140.5,25.94 140,24.94 139.5,24.91 139,24.13 138.5,24.42 138,23.53 137.5,23.06 137,22.46 136.5,22.21 136,21.56 135.5,21.11 135,21.49 134.5,20.43 134,20.43 133.5,19.23 133,18.86 132.5,19.07 132,18.6 131.5,17.26 131,16.86 130.5,16.35 130,16.19 129.5,15.27 129,15.04 128.5,14.61 128,13.73 127.5,13.31 127,12.64 126.5,12.67 126,11.96"/>
<path d="M184.6 56.05 L185.4 59.47 L186.2 63.15 L187 66.05 L187.8 68.72 L188.6 71.39 L189.4 73.98 L190.2 76.55 L191 79.37 L191.8 81.91 L192.6 84.39 L193.4 87.18 L194.2 90.09 L195 92.83 L195.8 95.88 L196.6 98.77 L197.4 101.99 L198.2 104.7 L199 108.03 L199.8 111.09 L200.6 114.21 L201.4 117.19 L202.2 120.01 L203 122.64 L203.8 125.6 L204.6 128.47" fill="none" stroke="#0a7dfa" stroke-width="4.5" stroke-linejoin="round" stroke-linecap="round"/>
<path d="M203.6 125 L203.74 125.48 L203.88 125.96 L204.02 126.44 L204.16 126.92 L204.29 127.4 L204.43 127.88 L204.57 128.36 L204.71 128.84 L204.85 129.32 L204.99 129.8 L205.13 130.28 L205.27 130.76 L205.4 131.24 L205.54 131.72 L205.68 132.21 L205.82 132.69 L205.96 133.17 L206.1 133.65 L206.25 134.12 L206.44 134.58 L206.64 135.04 L206.83 135.51 L207.02 135.97 L207.21 136.43 L207.4 136.89 L207.6 137.35 L207.79 137.81 L207.98 138.28 L208.17 138.74 L208.37 139.2 L208.56 139.66 L208.75 140.12 L208.94 140.58 L209.14 141.04 L209.33 141.51 L209.52 141.97 L209.71 142.43 L209.9 142.89 L210.1 143.35 L210.29 143.81 L210.48 144.28 L210.67 144.74 L210.87 145.2 L211.06 145.66 L211.26 146.12 L211.48 146.57 L211.71 147.01 L211.93 147.46 L212.15 147.91 L212.38 148.35 L212.6 148.8 L212.82 149.25 L213.05 149.7 L213.27 150.14 L213.5 150.59 L213.72 151.04 L213.94 151.48 L214.17 151.93 L214.39 152.38 L214.61 152.83 L214.84 153.27 L215.06 153.72 L215.28 154.17 L215.51 154.62 L215.73 155.06 L215.95 155.51 L216.18 155.96 L216.4 156.4 L216.63 156.85 L216.85 157.3 L217.07 157.75 L217.32 158.18 L217.6 158.6 L217.87 159.01 L218.15 159.43 L218.43 159.84 L218.71 160.26 L218.98 160.68 L219.26 161.09 L219.54 161.51 L219.82 161.92 L220.09 162.34 L220.37 162.76 L220.65 163.17 L220.93 163.59 L221.2 164 L221.48 164.42 L221.76 164.84 L222.03 165.25 L222.31 165.67 L222.59 166.08 L222.87 166.5 L223.14 166.92 L223.42 167.33 L223.7 167.75 L223.98 168.16 L224.25 168.58 L224.53 169 L224.81 169.41 L225.09 169.83 L225.41 170.21 L225.76 170.56 L226.11 170.91 L226.47 171.27 L226.82 171.62 L227.18 171.98 L227.53 172.33 L227.88 172.68 L228.24 173.04 L228.59 173.39 L228.94 173.74 L229.3 174.1 L229.65 174.45 L230 174.8 L230.36 175.16 L230.71 175.51 L231.06 175.86 L231.42 176.22 L231.77 176.57 L232.12 176.92 L232.48 177.28 L232.83 177.63 L233.19 177.99 L233.5 178.37 L233.81 178.76 L234.12 179.16 L234.44 179.55 L234.75 179.94 L235.06 180.33 L235.37 180.72 L235.69 181.11 L236 181.5 L236.31 181.89 L236.62 182.28 L236.94 182.67 L237.25 183.06 L237.56 183.45 L237.87 183.84 L238.18 184.23 L238.5 184.62 L238.81 185.01 L239.12 185.4 L239.43 185.79 L239.75 186.18 L240.06 186.57 L240.37 186.96 L240.68 187.35 L241 187.74 L241.29 188.15 L241.54 188.58 L241.79 189.02 L242.04 189.45 L242.29 189.88 L242.54 190.31 L242.79 190.75 L243.04 191.18 L243.29 191.61 L243.54 192.04 L243.8 192.48 L244.05 192.91 L244.3 193.34 L244.55 193.77 L244.8 194.21 L245.05 194.64 L245.3 195.07 L245.55 195.5 L245.8 195.94 L246.05 196.37 L246.3 196.8 L246.56 197.23 L246.81 197.67 L247.04 198.1 L247.24 198.57 L247.43 199.03 L247.63 199.49 L247.82 199.95 L248.01 200.41 L248.21 200.87 L248.4 201.33 L248.6 201.79 L248.79 202.25 L248.98 202.71 L249.18 203.17 L249.37 203.63 L249.57 204.09 L249.76 204.56 L249.95 205.02 L250.15 205.48 L250.34 205.94 L250.54 206.4 L250.73 206.86 L250.92 207.32 L251.15 207.77 L251.38 208.21 L251.62 208.65 L251.86 209.09 L252.1 209.53 L252.34 209.97 L252.57 210.41 L252.81 210.85 L253.05 211.29 L253.29 211.73 L253.53 212.17 L253.76 212.61 L254 213.05 L254.24 213.49 L254.48 213.92 L254.71 214.36 L254.95 214.8 L255.19 215.24 L255.43 215.68 L255.7 216.1 L256.06 216.44 L256.42 216.79 L256.78 217.14 L257.15 217.48 L257.51 217.83 L257.87 218.17 L258.23 218.52 L258.59 218.86 L258.95 219.21 L259.31 219.56 L259.67 219.9 L260.03 220.25 L260.39 220.59 L260.86 220.77 L261.33 220.93 L261.81 221.1 L262.28 221.27 L262.75 221.44 L263.22 221.61 L263.69 221.77 L264.16 221.94 L264.63 222.11 L265.1 222.28 L265.57 222.45 L266.05 222.6 L266.55 222.62 L267.05 222.63 L267.54 222.65 L268.04 222.67 L268.54 222.68 L269.04 222.7 L269.54 222.72 L270.04 222.73 L270.54 222.75 L271.04 222.77 L271.54 222.78" fill="none" stroke="#0a7dfa" stroke-width="4.3" stroke-linejoin="round" stroke-linecap="round"/><g fill="#0a7dfa"><circle cx="203" cy="126.22" r="2.2"/><circle cx="205.65" cy="128.57" r="2.2"/><circle cx="204.81" cy="132.46" r="2.2"/><circle cx="207.76" cy="135.66" r="2.2"/><circle cx="207.77" cy="139.99" r="2.2"/><circle cx="210.84" cy="142.5" r="2.2"/><circle cx="210.56" cy="146.44" r="2.2"/><circle cx="213.76" cy="149.34" r="2.2"/><circle cx="213.83" cy="153.78" r="2.2"/><circle cx="217.63" cy="156.35" r="2.2"/><circle cx="217.36" cy="159.96" r="2.2"/><circle cx="220.85" cy="161.83" r="2.2"/><circle cx="221.4" cy="165.68" r="2.2"/><circle cx="224.93" cy="168.13" r="2.2"/><circle cx="225.54" cy="171.49" r="2.2"/><circle cx="229.25" cy="172.73" r="2.2"/><circle cx="230.34" cy="176.59" r="2.2"/><circle cx="234.56" cy="178.17" r="2.2"/><circle cx="235.14" cy="182.18" r="2.2"/><circle cx="239.11" cy="184.13" r="2.2"/><circle cx="240.05" cy="188.46" r="2.2"/><circle cx="244.03" cy="190.6" r="2.2"/><circle cx="243.95" cy="194.7" r="2.2"/><circle cx="247.35" cy="196.77" r="2.2"/><circle cx="247.51" cy="201.71" r="2.2"/><circle cx="250.85" cy="204.64" r="2.2"/><circle cx="250.61" cy="208.63" r="2.2"/><circle cx="254.08" cy="211.3" r="2.2"/><circle cx="254.23" cy="215.2" r="2.2"/><circle cx="257.61" cy="216.27" r="2.2"/><circle cx="259.27" cy="221.04" r="2.2"/><circle cx="264.05" cy="220.76" r="2.2"/><circle cx="267.02" cy="223.48" r="2.2"/></g>
<polygon fill="#0a7dfa" points="268,220.1 268.5,219.9 269,220.17 269.5,220.38 270,220.16 270.5,220.15 271,220.41 271.5,220.39 272,220.22 272.5,220.46 273,220.15 273.5,220.46 274,220.26 274.5,219.83 275,220.2 275.5,220.09 276,220.42 276.5,220.5 277,220.4 277.5,220.13 278,220.08 278.5,220.2 279,220.22 279.5,220.29 280,220.16 280.5,220.2 281,220.42 281.5,220.41 282,220.46 282.5,220.35 283,220.44 283.5,220.31 284,220.2 284.5,220.16 285,220.21 285.5,220.29 286,220.23 286.5,220.4 287,220.16 287.5,220.25 288,220.48 288.5,220.47 289,219.7 289.5,220.46 290,220.47 290.5,220.33 291,220.44 291.5,220.51 292,220.4 292.5,220.21 293,220.13 293.5,220.52 294,220.22 294.5,220.12 295,220.48 295.5,220.3 296,219.7 296.5,220.3 297,220.27 297.5,220.42 298,220.22 298.5,220.28 299,219.84 299.5,220.09 300,219.81 300.5,220.44 301,220.4 301.5,220.36 302,220.09 302.5,220.48 303,220.28 303.5,220.48 304,220.52 304.5,220.13 305,220.23 305.5,219.92 306,220.34 306.5,220.39 307,220.46 307.5,220.52 308,220.39 308.5,220.43 309,220.33 309.5,220.52 310,219.85 310.5,220.5 311,220.42 311.5,220.47 312,220 312.5,220.46 313,220.4 313.5,219.98 314,220.16 314.5,220.26 315,220.26 315.5,220.41 316,220.15 316.5,220.03 317,220.3 317.5,220.39 318,220.15 318.5,220.29 319,220.5 319.5,220.48 320,220.36 320.5,220.47 321,219.73 321.5,220.27 322,220.38 322.5,220.4 323,220.45 323.5,220.2 324,220.43 324.5,219.94 325,220.5 325.5,220.29 326,220.52 326.5,220.54 327,220.3 327.5,220.25 328,220.46 328.5,220.45 329,220.51 329.5,220.39 330,219.87 330.5,220.28 331,220.44 331.5,220.37 332,220.52 332.5,220.5 333,220.47 333.5,220.4 334,220.16 334.5,220.1 335,220.53 335.5,220.24 336,220.43 336.5,220.53 337,220.52 337.5,220.46 338,220.43 338.5,220.27 339,220.25 339.5,220.1 340,220.18 340.5,220.36 341,220.17 341.5,220.5 342,220.15 342.5,220.21 343,220.1 343.5,220.56 344,219.88 344.5,220.29 345,220.56 345.5,220.39 346,220.15 346.5,220.38 347,220.16 347.5,220.36 348,220.56 348.5,220.23 349,220.05 349.5,220.33 350,220.39 350.5,220.48 351,219.97 351.5,220.22 352,220.43 352.5,220.53 353,220.38 353.5,220.14 354,220.55 354.5,220.46 355,220.31 355.5,220.39 356,220.49 356.5,220.55 357,220.42 357.5,220.34 358,220.04 358.5,220.12 359,220.44 359.5,220.19 360,220.42 360.5,220.49 361,220.49 361.5,220.46 362,220.57 362.5,220.55 363,220.58 363.5,220.52 364,220.46 364.5,220.23 365,220.29 365.5,220.52 366,220.4 366.5,220.36 367,220.12 367.5,220.53 368,220.46 368.5,220.56 369,220.57 369.5,220.37 370,220.13 370.5,220.42 371,220.49 371.5,220.34 372,220.17 372.5,219.86 373,219.93 373.5,220.1 374,220.31 374.5,220.41 375,220.21 375.5,220.41 376,220.55 376.5,220.3 377,220.52 377.5,220.49 378,220.37 378.5,220.59 379,220.52 379.5,220.48 380,220.18 380.5,220.33 381,220.49 381.5,220.4 382,220.43 382.5,219.7 383,220.25 383.5,220.4 384,220.53 384.5,220.13 385,219.89 385,225.77 384.5,225.22 384,225.4 383.5,226.12 383,225.43 382.5,225.37 382,225.48 381.5,225.79 381,225.53 380.5,225.23 380,225.21 379.5,225.22 379,225.31 378.5,225.66 378,225.37 377.5,225.39 377,225.2 376.5,225.48 376,225.76 375.5,225.45 375,225.26 374.5,225.31 374,225.61 373.5,225.24 373,225.48 372.5,225.21 372,225.21 371.5,225.46 371,225.26 370.5,225.72 370,225.46 369.5,225.2 369,225.24 368.5,225.25 368,225.22 367.5,225.26 367,225.23 366.5,225.75 366,225.2 365.5,225.3 365,225.8 364.5,225.32 364,225.66 363.5,225.5 363,225.37 362.5,225.24 362,225.22 361.5,225.28 361,225.31 360.5,225.59 360,225.26 359.5,225.29 359,225.44 358.5,225.39 358,225.52 357.5,225.43 357,225.3 356.5,225.57 356,225.29 355.5,225.23 355,225.3 354.5,225.42 354,225.45 353.5,225.5 353,225.55 352.5,225.6 352,225.26 351.5,225.35 351,225.24 350.5,225.41 350,225.39 349.5,225.26 349,225.27 348.5,225.27 348,225.37 347.5,225.29 347,225.38 346.5,225.39 346,225.26 345.5,225.3 345,225.45 344.5,225.59 344,225.22 343.5,225.62 343,225.72 342.5,225.29 342,225.31 341.5,225.21 341,225.55 340.5,225.52 340,225.61 339.5,225.21 339,225.21 338.5,225.59 338,225.66 337.5,225.43 337,225.35 336.5,225.4 336,225.6 335.5,225.54 335,225.36 334.5,225.45 334,225.41 333.5,225.23 333,225.55 332.5,225.25 332,225.64 331.5,225.46 331,225.85 330.5,225.24 330,225.69 329.5,225.41 329,225.54 328.5,225.31 328,225.3 327.5,225.82 327,225.58 326.5,225.64 326,225.88 325.5,225.27 325,225.53 324.5,225.52 324,225.25 323.5,225.53 323,225.22 322.5,225.35 322,225.23 321.5,225.31 321,225.33 320.5,225.3 320,225.42 319.5,225.63 319,225.45 318.5,225.29 318,225.48 317.5,225.45 317,225.3 316.5,225.29 316,225.3 315.5,225.61 315,225.3 314.5,225.51 314,225.41 313.5,225.29 313,225.23 312.5,225.81 312,225.5 311.5,225.26 311,225.38 310.5,225.2 310,225.39 309.5,225.7 309,225.21 308.5,225.54 308,225.99 307.5,225.28 307,225.24 306.5,225.29 306,225.23 305.5,225.42 305,225.74 304.5,225.32 304,225.49 303.5,225.23 303,225.53 302.5,225.54 302,225.21 301.5,225.47 301,225.5 300.5,225.33 300,225.38 299.5,225.33 299,225.91 298.5,226 298,225.39 297.5,225.29 297,225.55 296.5,225.38 296,225.22 295.5,225.27 295,225.48 294.5,225.37 294,225.35 293.5,225.21 293,225.23 292.5,225.42 292,225.52 291.5,225.62 291,225.42 290.5,225.48 290,225.31 289.5,225.27 289,225.27 288.5,225.36 288,225.41 287.5,225.33 287,225.26 286.5,225.62 286,225.65 285.5,225.24 285,225.41 284.5,225.2 284,225.75 283.5,225.2 283,225.37 282.5,225.51 282,225.21 281.5,225.66 281,225.45 280.5,225.41 280,225.34 279.5,225.26 279,225.22 278.5,225.22 278,225.62 277.5,225.31 277,225.28 276.5,225.47 276,225.35 275.5,225.7 275,225.45 274.5,225.28 274,225.51 273.5,225.34 273,225.53 272.5,225.34 272,225.38 271.5,225.38 271,225.46 270.5,225.52 270,225.39 269.5,225.75 269,225.87 268.5,225.97 268,225.33"/>
</g>
<path d="M182 16.9V225.7" stroke="#111" stroke-width="1.7" stroke-dasharray="5.8 5.42" fill="none"/>
<path d="M182 9.6v1.2" stroke="#666" stroke-width="1.1" fill="none"/>
<g clip-path="url(#clipP)">
<polygon fill="#0a00b4" points="126,95.21 126.5,95.49 127,95.7 127.5,97.22 128,98.36 128.5,99.66 129,101.63 129.5,102.77 130,104.99 130.5,106.7 131,108.41 131.5,110.06 132,111.91 132.5,112.65 133,114.16 133.5,115.38 134,116.59 134.5,117.46 135,118.95 135.5,120.33 136,121.04 136.5,122.26 137,123.82 137.5,124.12 138,125.84 138.5,127.19 139,128.39 139.5,129.37 140,130.81 140.5,131.8 141,132.66 141.5,133.14 142,134.47 142.5,135.34 143,136.04 143.5,136.38 144,137.74 144.5,138.64 145,138.99 145.5,140.5 146,141.43 146.5,142.03 147,142.98 147.5,143.78 148,144.83 148.5,145.57 149,146.78 149.5,147.72 150,148.98 150.5,149.73 151,150.82 151.5,151.62 152,152.44 152.5,153.16 153,154.18 153.5,155.26 154,155.92 154.5,156.89 155,158.17 155.5,158.9 156,159.74 156.5,160.61 157,161.53 157.5,162.51 158,163.6 158.5,164.74 159,165.95 159.5,166.95 160,167.82 160.5,168.95 161,169.88 161.5,170.85 162,171.33 162.5,171.93 163,172.6 163.5,172.99 164,173.08 164.5,173.12 165,173.87 165.5,173.76 166,174.35 166.5,174.04 167,174.77 167.5,174.7 168,175.39 168.5,175.4 169,176 169.5,175.43 170,176.38 170.5,176.5 171,176.77 171.5,177.27 172,177.88 172.5,178.39 173,178.98 173.5,179.95 174,180.92 174.5,181.58 175,185.36 175.5,192.95 176,206.97 176.5,207.28 177,208.71 177.5,209.97 178,210.15 178.5,210.78 179,211.21 179.5,211.8 180,212.2 180.5,212.43 181,212.53 181.5,212.06 182,212.43 182.5,212.76 183,212.64 183.5,212.56 184,212.64 184.5,212.82 185,212.56 185.5,212.68 186,212.18 186.5,212.84 187,212.56 187.5,212.85 188,212.15 188.5,212.84 189,212.91 189.5,212.97 190,212.43 190.5,212.43 191,212.94 191.5,212.68 192,212.97 192.5,212.76 193,213.03 193.5,212.94 194,212.81 194.5,212.99 195,212.92 195.5,212.84 196,212.97 196.5,212.82 197,212.52 197.5,213 198,212.54 198.5,212.91 199,213.02 199.5,212.92 200,213.1 200.5,213.06 201,212.88 201.5,213.02 202,212.85 202.5,212.94 203,212.99 203.5,213.02 204,213.14 204.5,212.66 205,212.89 205.5,213.18 206,213 206.5,212.99 207,213.19 207.5,213.18 208,213 208.5,213.17 209,213 209.5,213 210,213.13 210.5,213.2 211,213.15 211.5,212.91 212,213.26 212.5,212.69 213,213.11 213.5,213.2 214,213.34 214.5,213.17 215,213.33 215.5,212.79 216,213.17 216.5,213.11 217,213.05 217.5,213.42 218,213.25 218.5,213.02 219,213.1 219.5,213.36 220,213.32 220.5,213.07 221,213.49 221.5,213.08 222,213.43 222.5,213.49 223,213.12 223.5,213.27 224,213.5 224.5,213.61 225,213.25 225.5,213.61 226,213.26 226.5,213.35 227,213.59 227.5,213.51 228,213.33 228.5,213.62 229,212.94 229.5,213.55 230,213.44 230.5,213.56 231,213.73 231.5,213.61 232,213.3 232.5,213.45 233,213.56 233.5,213.46 234,213.78 234.5,213.57 235,213.8 235.5,213.81 236,213.78 236.5,213.29 236.5,219.73 236,219.01 235.5,219.12 235,219.24 234.5,219.12 234,219.01 233.5,219.2 233,219.07 232.5,219.43 232,219.21 231.5,219.6 231,219.46 230.5,219.12 230,219.73 229.5,219.46 229,218.95 228.5,219.27 228,218.9 227.5,218.97 227,219 226.5,219.25 226,219.14 225.5,219.27 225,219.18 224.5,218.87 224,219.32 223.5,219.92 223,218.95 222.5,219.26 222,218.79 221.5,218.74 221,219.03 220.5,219.22 220,218.74 219.5,218.89 219,218.84 218.5,219.23 218,218.75 217.5,219.07 217,218.77 216.5,219.33 216,218.64 215.5,219.53 215,218.76 214.5,219.08 214,218.56 213.5,218.69 213,218.72 212.5,218.77 212,218.8 211.5,218.64 211,218.66 210.5,218.73 210,219.12 209.5,218.66 209,218.94 208.5,219.07 208,218.43 207.5,218.94 207,218.49 206.5,219.01 206,218.39 205.5,218.41 205,218.4 204.5,218.46 204,218.35 203.5,218.62 203,218.7 202.5,218.46 202,218.43 201.5,218.41 201,218.36 200.5,218.33 200,218.31 199.5,218.78 199,218.64 198.5,218.3 198,218.46 197.5,218.27 197,218.05 196.5,218 196,218.08 195.5,217.99 195,217.93 194.5,218.2 194,217.94 193.5,217.76 193,217.75 192.5,218.38 192,217.88 191.5,217.71 191,217.85 190.5,217.66 190,217.59 189.5,217.59 189,217.47 188.5,217.57 188,217.72 187.5,217.58 187,217.85 186.5,217.33 186,218.13 185.5,217.6 185,217.87 184.5,217.8 184,217.21 183.5,217.4 183,217.49 182.5,217.56 182,217.1 181.5,217.5 181,217.56 180.5,217.26 180,217.11 179.5,217.43 179,217.73 178.5,217.11 178,216.95 177.5,216.85 177,216.81 176.5,216.93 176,216.85 175.5,216.37 175,216.31 174.5,215.04 174,214.96 173.5,214.62 173,213.52 172.5,213.14 172,212.31 171.5,211.9 171,211.11 170.5,210.68 170,210.49 169.5,209.85 169,209.33 168.5,209.27 168,208.74 167.5,208.55 167,207.76 166.5,207 166,206.58 165.5,205.98 165,205.12 164.5,204.7 164,203.7 163.5,202.53 163,201.77 162.5,201.16 162,200.12 161.5,199.5 161,198.13 160.5,197.26 160,196.14 159.5,195.05 159,194.11 158.5,192.93 158,191.53 157.5,190.41 157,189.48 156.5,188.17 156,187.04 155.5,185.86 155,184.67 154.5,183.87 154,182.33 153.5,181.17 153,180.34 152.5,178.25 152,177.47 151.5,175.91 151,174.59 150.5,173.39 150,172 149.5,171.33 149,170.8 148.5,169.78 148,169.26 147.5,168.03 147,166.66 146.5,165.41 146,164.09 145.5,162.93 145,161.65 144.5,160.3 144,159.06 143.5,157.79 143,156.82 142.5,155.32 142,154 141.5,153.46 141,151.98 140.5,150.61 140,149.62 139.5,147.98 139,146.68 138.5,145.09 138,144.01 137.5,142.52 137,141.14 136.5,139.95 136,138.68 135.5,136.95 135,135.63 134.5,134.22 134,132.76 133.5,131.53 133,129.82 132.5,129 132,127.72 131.5,125.49 131,124.5 130.5,122.92 130,120.97 129.5,119.24 129,118.15 128.5,116.31 128,114.1 127.5,111.01 127,108.29 126.5,104.54 126,100.14"/>
</g>
<path d="M126 7.4h3.2M126 18.31h3.2M126 40.14h3.2M126 51.06h3.2M126 61.97h3.2M126 83.81h3.2M126 94.72h3.2M126 105.63h3.2M126 127.47h3.2M126 138.38h3.2M126 149.29h3.2M126 171.12h3.2M126 182.04h3.2M126 192.95h3.2M126 214.78h3.2M126 225.7h3.2M384 217.15h-3.2M384 208.6h-3.2M384 200.06h-3.2M384 191.51h-3.2M384 174.41h-3.2M384 165.86h-3.2M384 157.32h-3.2M384 148.77h-3.2M384 131.67h-3.2M384 123.12h-3.2M384 114.58h-3.2M384 106.03h-3.2M384 88.93h-3.2M384 80.38h-3.2M384 71.84h-3.2M384 63.29h-3.2M384 46.19h-3.2M384 37.64h-3.2M384 29.1h-3.2M384 20.55h-3.2M138.9 225.7v-3M151.8 225.7v-3M164.7 225.7v-3M177.6 225.7v-3M203.4 225.7v-3M216.3 225.7v-3M229.2 225.7v-3M242.1 225.7v-3M267.9 225.7v-3M280.8 225.7v-3M293.7 225.7v-3M306.6 225.7v-3M332.4 225.7v-3M345.3 225.7v-3M358.2 225.7v-3M371.1 225.7v-3" stroke="#8c8c8c" stroke-width="0.6" fill="none"/>
<path d="M126 29.23h6M126 72.89h6M126 116.55h6M126 160.21h6M126 203.87h6M384 225.7h-6.2M384 182.96h-6.2M384 140.22h-6.2M384 97.48h-6.2M384 54.74h-6.2M384 12h-6.2M190.5 225.7v-6M255 225.7v-6M319.5 225.7v-6" stroke="#1c1c1c" stroke-width="1.3" fill="none"/>
<path d="M126 7.2V226.6" stroke="#141414" stroke-width="1.7" fill="none"/>
<text transform="translate(41 36.33) scale(1 1.07)" font-size="20.1">4.0x10<tspan dx="0.9" dy="-9.8" font-size="11.6">+07</tspan></text>
<text transform="translate(41 79.99) scale(1 1.07)" font-size="20.1">2.0x10<tspan dx="0.9" dy="-9.8" font-size="11.6">+07</tspan></text>
<text transform="translate(41 123.65) scale(1 1.07)" font-size="20.1">0.0x10<tspan dx="0.9" dy="-9.8" font-size="11.6">+00</tspan></text>
<text transform="translate(34.6 167.31) scale(1 1.07)" font-size="20.1">-2.0x10<tspan dx="0.9" dy="-9.8" font-size="11.6">+07</tspan></text>
<text transform="translate(34.6 210.97) scale(1 1.07)" font-size="20.1">-4.0x10<tspan dx="0.9" dy="-9.8" font-size="11.6">+07</tspan></text>
<text transform="translate(389.6 19.1) scale(1 1.07)" font-size="20.1">2.5x10<tspan dx="0.9" dy="-9.8" font-size="11.6">+08</tspan></text>
<text transform="translate(389.6 61.84) scale(1 1.07)" font-size="20.1">2.0x10<tspan dx="0.9" dy="-9.8" font-size="11.6">+08</tspan></text>
<text transform="translate(389.6 104.58) scale(1 1.07)" font-size="20.1">1.5x10<tspan dx="0.9" dy="-9.8" font-size="11.6">+08</tspan></text>
<text transform="translate(389.6 147.32) scale(1 1.07)" font-size="20.1">1.0x10<tspan dx="0.9" dy="-9.8" font-size="11.6">+08</tspan></text>
<text transform="translate(389.6 190.06) scale(1 1.07)" font-size="20.1">5.0x10<tspan dx="0.9" dy="-9.8" font-size="11.6">+07</tspan></text>
<text transform="translate(389.6 232.8) scale(1 1.07)" font-size="20.1">0.0x10<tspan dx="0.9" dy="-9.8" font-size="11.6">+00</tspan></text>
<text transform="translate(126 252.2) scale(1 1.07)" font-size="20.1" text-anchor="middle">0</text>
<text transform="translate(190.5 252.2) scale(1 1.07)" font-size="20.1" text-anchor="middle">250</text>
<text transform="translate(255 252.2) scale(1 1.07)" font-size="20.1" text-anchor="middle">500</text>
<text transform="translate(319.5 252.2) scale(1 1.07)" font-size="20.1" text-anchor="middle">750</text>
<text transform="translate(384 252.2) scale(1 1.07)" font-size="20.1" text-anchor="middle">1000</text>
<text transform="translate(255 279.6) scale(1 1.07)" font-size="20.3" text-anchor="middle">Time [yr]</text>
<text transform="translate(19.2 225.6) rotate(-90) scale(1 1.07)" font-size="19.9" textLength="217.0" lengthAdjust="spacing">Groundwater flow [m<tspan dy="-9.6" font-size="10.9">3</tspan><tspan dy="9.6">yr</tspan><tspan dy="-9.6" font-size="10.9">-1</tspan><tspan dy="9.6">]</tspan></text>
<text transform="translate(494.4 227.2) rotate(-90) scale(1 1.07)" font-size="20.3" textLength="219.6" lengthAdjust="spacing">Ice volume under lake [m<tspan dy="-9.6" font-size="10.9">3</tspan><tspan dy="9.6">]</tspan></text>
<text transform="translate(4.8 269.4) scale(1 0.97)" font-size="24.8" font-weight="bold">(a)</text>
</g>
<g transform="translate(0 306.6)">
<path d="M125.1 225.7H384.7" stroke="#141414" stroke-width="1.6" fill="none"/>
<path d="M384 7.8V226.6" stroke="#2a2a2a" stroke-width="1.45" fill="none"/>
<g clip-path="url(#clipP)">
<g fill="#b00d14"><rect x="124.6" y="114.25" width="260.2" height="3.9"/><ellipse cx="125.6" cy="114.45" rx="2.58" ry="0.75"/><ellipse cx="128.26" cy="114.45" rx="1.93" ry="1.38"/><ellipse cx="132.77" cy="114.45" rx="1.98" ry="1.24"/><ellipse cx="135.84" cy="114.45" rx="1.24" ry="0.72"/><ellipse cx="140.93" cy="114.45" rx="1.37" ry="0.95"/><ellipse cx="146.67" cy="114.45" rx="1.8" ry="0.8"/><ellipse cx="149.74" cy="114.45" rx="2.09" ry="1.12"/><ellipse cx="154.19" cy="114.45" rx="1.58" ry="0.79"/><ellipse cx="157.07" cy="114.45" rx="1.35" ry="0.84"/><ellipse cx="159.54" cy="114.45" rx="2.73" ry="1.42"/><ellipse cx="162.11" cy="114.45" rx="1.45" ry="0.57"/><ellipse cx="167.03" cy="114.45" rx="1.14" ry="1.25"/><ellipse cx="171.38" cy="114.45" rx="1.98" ry="0.55"/><ellipse cx="176.02" cy="114.45" rx="1.54" ry="1.44"/><ellipse cx="181.4" cy="114.45" rx="2.67" ry="1.33"/><ellipse cx="183.13" cy="114.45" rx="2.77" ry="0.97"/><ellipse cx="186.67" cy="114.45" rx="2.03" ry="1.28"/><ellipse cx="191.9" cy="114.45" rx="1.15" ry="0.99"/><ellipse cx="194.01" cy="114.45" rx="1.53" ry="0.65"/><ellipse cx="200.14" cy="114.45" rx="2.49" ry="1.12"/><ellipse cx="204.44" cy="114.45" rx="2.48" ry="1.12"/><ellipse cx="210.39" cy="114.45" rx="2.5" ry="1.37"/><ellipse cx="212.54" cy="114.45" rx="1.16" ry="0.87"/><ellipse cx="216.75" cy="114.45" rx="1.19" ry="1.27"/><ellipse cx="219.33" cy="114.45" rx="1.52" ry="0.88"/><ellipse cx="224.67" cy="114.45" rx="2.19" ry="0.87"/><ellipse cx="228.64" cy="114.45" rx="2.7" ry="1.08"/><ellipse cx="234.67" cy="114.45" rx="2.53" ry="0.65"/><ellipse cx="237.97" cy="114.45" rx="1.75" ry="0.64"/><ellipse cx="242.02" cy="114.45" rx="1.73" ry="1.41"/><ellipse cx="243.79" cy="114.45" rx="1.29" ry="1.32"/><ellipse cx="247.69" cy="114.45" rx="1.98" ry="1.31"/><ellipse cx="251.44" cy="114.45" rx="1.13" ry="1.27"/><ellipse cx="255.78" cy="114.45" rx="2.77" ry="0.92"/><ellipse cx="261.15" cy="114.45" rx="1.42" ry="0.6"/><ellipse cx="264.94" cy="114.45" rx="1.66" ry="1.18"/><ellipse cx="268.3" cy="114.45" rx="2.72" ry="1.38"/><ellipse cx="271.87" cy="114.45" rx="1.66" ry="1.36"/><ellipse cx="273.97" cy="114.45" rx="2.22" ry="1.02"/><ellipse cx="279.76" cy="114.45" rx="2.41" ry="1.42"/><ellipse cx="284.95" cy="114.45" rx="2.29" ry="1.19"/><ellipse cx="290.17" cy="114.45" rx="1.74" ry="1.43"/><ellipse cx="292.26" cy="114.45" rx="1.48" ry="0.77"/><ellipse cx="295.64" cy="114.45" rx="1.2" ry="1.28"/><ellipse cx="299.41" cy="114.45" rx="1.55" ry="1.28"/><ellipse cx="301.41" cy="114.45" rx="1.24" ry="0.77"/><ellipse cx="306.82" cy="114.45" rx="1.43" ry="0.7"/><ellipse cx="312.26" cy="114.45" rx="2.1" ry="1.28"/><ellipse cx="318.16" cy="114.45" rx="2.74" ry="0.6"/><ellipse cx="322.48" cy="114.45" rx="2.5" ry="0.82"/><ellipse cx="327.21" cy="114.45" rx="1.28" ry="1.44"/><ellipse cx="331.58" cy="114.45" rx="2.21" ry="0.98"/><ellipse cx="334.4" cy="114.45" rx="2.03" ry="0.58"/><ellipse cx="337.78" cy="114.45" rx="1.88" ry="1.35"/><ellipse cx="341.41" cy="114.45" rx="2" ry="1.12"/><ellipse cx="347.52" cy="114.45" rx="1.94" ry="1.26"/><ellipse cx="350.2" cy="114.45" rx="2.37" ry="1.09"/><ellipse cx="355.37" cy="114.45" rx="1.47" ry="1.44"/><ellipse cx="359.03" cy="114.45" rx="1.64" ry="0.93"/><ellipse cx="362.41" cy="114.45" rx="2.02" ry="0.98"/><ellipse cx="365.34" cy="114.45" rx="1.61" ry="0.67"/><ellipse cx="367.67" cy="114.45" rx="2.25" ry="0.84"/><ellipse cx="372.14" cy="114.45" rx="2.05" ry="1.45"/><ellipse cx="376.36" cy="114.45" rx="2.34" ry="1.13"/><ellipse cx="380.89" cy="114.45" rx="2.13" ry="1.08"/></g>
<path d="M124.6 117.49 L125.3 117.19 L126 117.94 L126.7 117.6 L127.4 117.82 L128.1 117.68 L128.8 117.07 L129.5 117.45 L130.2 118.06 L130.9 117.24 L131.6 117.89 L132.3 117.26 L133 118.53 L133.7 118.09 L134.4 118.02 L135.1 117.73 L135.8 117.35 L136.5 117.75 L137.2 117.23 L137.9 117.26 L138.6 117.92 L139.3 117.43 L140 117.74 L140.7 117.92 L141.4 117.93 L142.1 116.84 L142.8 118.11 L143.5 116.99 L144.2 117.74 L144.9 117.35 L145.6 117.64 L146.3 117.06 L147 117.87 L147.7 117.42 L148.4 117.53 L149.1 117.01 L149.8 117.65 L150.5 117.86 L151.2 118.05 L151.9 116.96 L152.6 117.67 L153.3 117.84 L154 117.89 L154.7 118.27 L155.4 117.34 L156.1 118 L156.8 117.12 L157.5 117.91 L158.2 117.73 L158.9 117.51 L159.6 117.31 L160.3 117.65 L161 117.6 L161.7 117.85 L162.4 117.87 L163.1 117.36 L163.8 117.72 L164.5 117.74 L165.2 117.57 L165.9 117.74 L166.6 117.59 L167.3 117.45 L168 117.89 L168.7 117.75 L169.4 117.34 L170.1 117.43 L170.8 117.21 L171.5 116.84 L172.2 117.93 L172.9 117.44 L173.6 117.16 L174.3 118.38 L175 118.16 L175.7 118.49 L176.4 118.55 L177.1 119.06 L177.8 119.98 L178.5 120.18 L179.2 120.35 L179.9 120.74 L180.6 121.16 L181.3 122.14 L182 121.69 L182.7 121.44 L183.4 122.53 L184.1 123.21 L184.8 122.78 L185.5 123.81 L186.2 125.46 L186.9 126.64 L187.6 128.55 L188.3 131.15 L189 133.39 L189.7 133.87 L190.4 134.77 L191.1 135.07 L191.8 135.88 L192.5 135.95 L193.2 137.52 L193.9 137.46 L194.6 138.44 L195.3 138.94 L196 139.51 L196.7 140.04 L197.4 140.7 L198.1 141.09 L198.8 141.67 L199.5 141.37 L200.2 142.53 L200.9 142.51 L201.6 143.13 L202.3 143.77 L203 144.24 L203.7 144.95 L204.4 145.35 L205.1 145.49 L205.8 146.19 L206.5 146.52 L207.2 147.42 L207.9 148.16 L208.6 148.31 L209.3 149.22 L210 149.74 L210.7 149.62 L211.4 149.53 L212.1 151.27 L212.8 150.91 L213.5 151.27 L214.2 151.43 L214.9 151.85 L215.6 152.58 L216.3 152.57 L217 152.73 L217.7 153.32 L218.4 154.11 L219.1 154.4 L219.8 154.4 L220.5 155.11 L221.2 155.13 L221.9 155.45 L222.6 155.43 L223.3 155.64 L224 155.82 L224.7 155.41 L225.4 156.39 L226.1 155.84 L226.8 156.54 L227.5 156.73 L228.2 156.47 L228.9 157.09 L229.6 157.03 L230.3 156.67 L231 157.37 L231.7 157.52 L232.4 157.91 L233.1 157.55 L233.8 157.42 L234.5 157.81 L235.2 158.19 L235.9 157.56 L236.6 158.54 L237.3 158.58 L238 158.55 L238.7 158.49 L239.4 159.09 L240.1 159.1 L240.8 159.15 L241.5 159.23 L242.2 159.32 L242.9 159.48 L243.6 159.42 L244.3 159.82 L245 159.31 L245.7 159.52 L246.4 159.73 L247.1 160.05 L247.8 160.95 L248.5 160.43 L249.2 160.08 L249.9 160.49 L250.6 160.72 L251.3 160.57 L252 160.82 L252.7 160.91 L253.4 160.92 L254.1 161.46 L254.8 161.82 L255.5 160.96 L256.2 161.39 L256.9 162.1 L257.6 161.9 L258.3 161.89 L259 161.92 L259.7 162.24 L260.4 162.21 L261.1 162.64 L261.8 162.4 L262.5 162.36 L263.2 163.09 L263.9 163.86 L264.6 163.39 L265.3 163.84 L266 164.27 L266.7 164.11 L267.4 164.32 L268.1 164.17 L268.8 164.39 L269.5 164.83 L270.2 165.2 L270.9 164.93 L271.6 165.41 L272.3 166.27 L273 166.56 L273.7 166.36 L274.4 166.67 L275.1 167.51 L275.8 168.07 L276.5 168.83 L277.2 168.7 L277.9 168.73 L278.6 169.27 L279.3 170.03 L280 169.78 L280.7 169.58 L281.4 170.74 L282.1 170.45 L282.8 171.06 L283.5 171.03 L284.2 171.36 L284.9 171.38 L285.6 171.85 L286.3 171.84 L287 172.26 L287.7 172.6 L288.4 172.66 L289.1 172.65 L289.8 173.24 L290.5 173.19 L291.2 173.07 L291.9 172.91 L292.6 173.16 L293.3 173.57 L294 173.7 L294.7 173.2 L295.4 173.91 L296.1 173.56 L296.8 173.71 L297.5 174.06 L298.2 173.68 L298.9 174.2 L299.6 174.63 L300.3 174.09 L301 174.25 L301.7 174.34 L302.4 175.04 L303.1 175.24 L303.8 175.15 L304.5 175.32 L305.2 174.99 L305.9 174.38 L306.6 175.15 L307.3 175.17 L308 175.55 L308.7 175.35 L309.4 175.35 L310.1 175.4 L310.8 175.31 L311.5 175.65 L312.2 175.47 L312.9 175.72 L313.6 175.94 L314.3 176.23 L315 175.21 L315.7 176.05 L316.4 176.13 L317.1 175.85 L317.8 176.58 L318.5 175.38 L319.2 175.86 L319.9 176.2 L320.6 176.17 L321.3 176.67 L322 176.83 L322.7 176.3 L323.4 176.54 L324.1 176.56 L324.8 176.32 L325.5 176.67 L326.2 176.86 L326.9 177.07 L327.6 176.79 L328.3 176.89 L329 176.98 L329.7 176.91 L330.4 176.95 L331.1 177.15 L331.8 176.89 L332.5 176.6 L333.2 177.18 L333.9 176.99 L334.6 177.1 L335.3 176.81 L336 177.5 L336.7 177.57 L337.4 177.06 L338.1 177.24 L338.8 177.54 L339.5 177.58 L340.2 177.38 L340.9 177.8 L341.6 177.63 L342.3 177.44 L343 177.61 L343.7 177.87 L344.4 178.17 L345.1 177.69 L345.8 177.89 L346.5 177.68 L347.2 177.46 L347.9 177.53 L348.6 178.37 L349.3 177.24 L350 178.08 L350.7 178.64 L351.4 178.34 L352.1 178.19 L352.8 178.03 L353.5 177.93 L354.2 178.34 L354.9 178.24 L355.6 177.95 L356.3 178.12 L357 178.01 L357.7 178.64 L358.4 177.87 L359.1 178.65 L359.8 178.16 L360.5 178.75 L361.2 178.14 L361.9 178.23 L362.6 178.33 L363.3 178.3 L364 178.26 L364.7 178.12 L365.4 178.43 L366.1 178.42 L366.8 178.15 L367.5 178.19 L368.2 178.03 L368.9 178.47 L369.6 178.26 L370.3 178 L371 178.81 L371.7 178.65 L372.4 177.88 L373.1 177.93 L373.8 177.98 L374.5 177.83 L375.2 177.72 L375.9 178.4 L376.6 178.79 L377.3 178.09 L378 178.04 L378.7 178.51 L379.4 178.62 L380.1 178.86 L380.8 178.49 L381.5 178.36 L382.2 178.45 L382.9 177.72 L383.6 179.06 L384.3 178.09 L385 178.76" fill="none" stroke="#50a80d" stroke-width="3.3" stroke-linejoin="round" stroke-linecap="butt"/>
<g fill="#50a80d"><circle cx="127.04" cy="119.24" r="0.91"/><circle cx="133.91" cy="119.09" r="0.87"/><circle cx="138.13" cy="119.35" r="0.81"/><circle cx="144.78" cy="119.01" r="0.98"/><circle cx="151.44" cy="119.37" r="0.79"/><circle cx="154.47" cy="119.39" r="1.18"/><circle cx="160.63" cy="119.15" r="1.08"/><circle cx="166.72" cy="119.19" r="1.01"/><circle cx="171.65" cy="119.29" r="1.05"/></g>
<path d="M124.6 117.21 L125.3 116.7 L126 117.05 L126.7 117.16 L127.4 117.12 L128.1 117.02 L128.8 117.09 L129.5 117.01 L130.2 116.96 L130.9 117.01 L131.6 117.1 L132.3 116.97 L133 117.22 L133.7 117.04 L134.4 117.15 L135.1 117.17 L135.8 116.84 L136.5 116.97 L137.2 116.96 L137.9 117.25 L138.6 116.98 L139.3 117.14 L140 117.28 L140.7 117.08 L141.4 117.1 L142.1 117.03 L142.8 116.86 L143.5 116.91 L144.2 117 L144.9 116.92 L145.6 117.24 L146.3 116.91 L147 117.09 L147.7 117.23 L148.4 116.98 L149.1 117.03 L149.8 116.91 L150.5 117.14 L151.2 116.94 L151.9 117 L152.6 117.05 L153.3 117.03 L154 116.91 L154.7 117.1 L155.4 116.96 L156.1 117 L156.8 116.81 L157.5 117.09 L158.2 117.2 L158.9 117.11 L159.6 116.97 L160.3 116.99 L161 117.06 L161.7 117.12 L162.4 116.89 L163.1 116.99 L163.8 117.12 L164.5 117.04 L165.2 117.01 L165.9 116.89 L166.6 117.22 L167.3 116.88 L168 117.08 L168.7 116.91 L169.4 117.19 L170.1 117.05 L170.8 117.05 L171.5 116.86 L172.2 116.92 L172.9 117.06 L173.6 117.19 L174.3 116.9 L175 116.48 L175.7 116.35 L176.4 115.98 L177.1 115.87 L177.8 115.38 L178.5 114.89 L179.2 114.59 L179.9 114.43 L180.6 114.02 L181.3 113.61 L182 113.4 L182.7 113.17 L183.4 112.61 L184.1 112.29 L184.8 112.18 L185.5 110.52 L186.2 108.4 L186.9 105.87 L187.6 103.61 L188.3 101.92 L189 99.64 L189.7 99.2 L190.4 98.33 L191.1 97.76 L191.8 97.18 L192.5 96.42 L193.2 95.63 L193.9 95.23 L194.6 94.64 L195.3 94.29 L196 93.93 L196.7 93.27 L197.4 92.81 L198.1 92.34 L198.8 91.77 L199.5 91.32 L200.2 90.85 L200.9 90.29 L201.6 90.03 L202.3 89.56 L203 88.9 L203.7 88.5 L204.4 88.03 L205.1 87.73 L205.8 87.25 L206.5 86.86 L207.2 86.32 L207.9 85.97 L208.6 85.31 L209.3 84.99 L210 84.39 L210.7 84.07 L211.4 83.69 L212.1 83.49 L212.8 83.41 L213.5 82.73 L214.2 82.77 L214.9 82.25 L215.6 82.17 L216.3 81.75 L217 81.57 L217.7 81.4 L218.4 80.91 L219.1 80.57 L219.8 80.41 L220.5 80.5 L221.2 79.97 L221.9 80.12 L222.6 79.5 L223.3 79.74 L224 79.4 L224.7 79.21 L225.4 79.16 L226.1 79.09 L226.8 78.85 L227.5 78.57 L228.2 78.3 L228.9 78.31 L229.6 78.17 L230.3 77.93 L231 77.96 L231.7 77.62 L232.4 77.51 L233.1 77.62 L233.8 77.38 L234.5 77.06 L235.2 77.3 L235.9 77.2 L236.6 76.64 L237.3 76.51 L238 76.59 L238.7 76.47 L239.4 76.38 L240.1 76.12 L240.8 76.01 L241.5 76.05 L242.2 75.49 L242.9 75.63 L243.6 75.51 L244.3 75.42 L245 75.07 L245.7 75.22 L246.4 74.75 L247.1 74.66 L247.8 74.6 L248.5 74.53 L249.2 74.4 L249.9 74.29 L250.6 74.41 L251.3 74.08 L252 73.95 L252.7 73.77 L253.4 73.39 L254.1 73.15 L254.8 73.09 L255.5 72.56 L256.2 72.71 L256.9 72.43 L257.6 72.31 L258.3 72.01 L259 71.8 L259.7 71.48 L260.4 71.32 L261.1 71.04 L261.8 70.96 L262.5 70.66 L263.2 70.68 L263.9 70.59 L264.6 70.34 L265.3 70.01 L266 69.84 L266.7 69.81 L267.4 69.45 L268.1 69.4 L268.8 69.25 L269.5 69.27 L270.2 68.74 L270.9 68.56 L271.6 68.46 L272.3 67.8 L273 67.67 L273.7 67.12 L274.4 66.97 L275.1 66.71 L275.8 66.36 L276.5 65.81 L277.2 65.59 L277.9 65.34 L278.6 64.76 L279.3 64.62 L280 64.16 L280.7 63.96 L281.4 63.65 L282.1 63.21 L282.8 62.86 L283.5 62.36 L284.2 62.21 L284.9 61.7 L285.6 61.78 L286.3 61.39 L287 61.17 L287.7 61.09 L288.4 60.87 L289.1 60.87 L289.8 60.4 L290.5 60.47 L291.2 60.52 L291.9 60.18 L292.6 60.35 L293.3 60.17 L294 59.93 L294.7 60.03 L295.4 59.96 L296.1 59.77 L296.8 59.76 L297.5 59.65 L298.2 59.53 L298.9 59.22 L299.6 59.5 L300.3 59.27 L301 59.19 L301.7 58.93 L302.4 59.12 L303.1 59.1 L303.8 58.93 L304.5 59.17 L305.2 58.89 L305.9 58.74 L306.6 58.7 L307.3 58.9 L308 58.9 L308.7 58.64 L309.4 58.82 L310.1 58.68 L310.8 58.38 L311.5 58.45 L312.2 58.37 L312.9 58.4 L313.6 58.58 L314.3 58.42 L315 58.42 L315.7 58.37 L316.4 58.14 L317.1 58.43 L317.8 58.35 L318.5 58.1 L319.2 58.06 L319.9 58.08 L320.6 58 L321.3 58.12 L322 58.03 L322.7 57.96 L323.4 58.03 L324.1 58.01 L324.8 57.94 L325.5 57.75 L326.2 57.55 L326.9 57.84 L327.6 57.75 L328.3 57.74 L329 57.64 L329.7 57.68 L330.4 57.7 L331.1 57.61 L331.8 57.51 L332.5 57.62 L333.2 57.46 L333.9 57.45 L334.6 57.5 L335.3 57.48 L336 57.42 L336.7 57.39 L337.4 57.6 L338.1 57.48 L338.8 57.01 L339.5 57.4 L340.2 57.23 L340.9 57.41 L341.6 57.5 L342.3 56.95 L343 57.34 L343.7 57.12 L344.4 56.92 L345.1 57.34 L345.8 57.22 L346.5 57.04 L347.2 56.95 L347.9 57.19 L348.6 57.22 L349.3 56.83 L350 56.97 L350.7 57.11 L351.4 56.95 L352.1 57 L352.8 57 L353.5 56.79 L354.2 56.64 L354.9 57.03 L355.6 56.92 L356.3 56.71 L357 56.69 L357.7 56.75 L358.4 56.66 L359.1 56.58 L359.8 56.73 L360.5 56.69 L361.2 56.92 L361.9 56.74 L362.6 56.86 L363.3 56.71 L364 56.82 L364.7 56.79 L365.4 56.49 L366.1 56.73 L366.8 56.73 L367.5 56.54 L368.2 56.63 L368.9 56.36 L369.6 56.44 L370.3 56.55 L371 56.48 L371.7 56.28 L372.4 56.51 L373.1 56.68 L373.8 56.57 L374.5 56.37 L375.2 56.47 L375.9 56.41 L376.6 56.3 L377.3 56.48 L378 56.4 L378.7 56.47 L379.4 56.23 L380.1 56.33 L380.8 56.34 L381.5 56.17 L382.2 56.14 L382.9 56.15 L383.6 56.07 L384.3 56.37 L385 56.23" fill="none" stroke="#ff7f0c" stroke-width="2.7" stroke-linejoin="round" stroke-linecap="butt"/>
<polygon fill="#0a00b4" points="126,95.21 126.5,95.49 127,95.7 127.5,97.22 128,98.36 128.5,99.66 129,101.63 129.5,102.77 130,104.99 130.5,106.7 131,108.41 131.5,110.06 132,111.91 132.5,112.65 133,114.16 133.5,115.38 134,116.59 134.5,117.46 135,118.95 135.5,120.33 136,121.04 136.5,122.26 137,123.82 137.5,124.12 138,125.84 138.5,127.19 139,128.39 139.5,129.37 140,130.81 140.5,131.8 141,132.66 141.5,133.14 142,134.47 142.5,135.34 143,136.04 143.5,136.38 144,137.74 144.5,138.64 145,138.99 145.5,140.5 146,141.43 146.5,142.03 147,142.98 147.5,143.78 148,144.83 148.5,145.57 149,146.78 149.5,147.72 150,148.98 150.5,149.73 151,150.82 151.5,151.62 152,152.44 152.5,153.16 153,154.18 153.5,155.26 154,155.92 154.5,156.89 155,158.17 155.5,158.9 156,159.74 156.5,160.61 157,161.53 157.5,162.51 158,163.6 158.5,164.74 159,165.95 159.5,166.95 160,167.82 160.5,168.95 161,169.88 161.5,170.85 162,171.33 162.5,171.93 163,172.6 163.5,172.99 164,173.08 164.5,173.12 165,173.87 165.5,173.76 166,174.35 166.5,174.04 167,174.77 167.5,174.7 168,175.39 168.5,175.4 169,176 169.5,175.43 170,176.38 170.5,176.5 171,176.77 171.5,177.27 172,177.88 172.5,178.39 173,178.98 173.5,179.95 174,180.92 174.5,181.58 175,185.36 175.5,192.95 176,206.97 176.5,207.28 177,208.71 177.5,209.97 178,210.15 178.5,210.78 179,211.21 179.5,211.8 180,212.2 180.5,212.43 181,212.53 181.5,212.06 182,212.43 182.5,212.76 183,212.64 183.5,212.56 184,212.64 184.5,212.82 185,212.56 185.5,212.68 186,212.18 186.5,212.84 187,212.56 187.5,212.85 188,212.15 188.5,212.84 189,212.91 189.5,212.97 190,212.43 190.5,212.43 191,212.94 191.5,212.68 192,212.97 192.5,212.76 193,213.03 193.5,212.94 194,212.81 194.5,212.99 195,212.92 195.5,212.84 196,212.97 196.5,212.82 197,212.52 197.5,213 198,212.54 198.5,212.91 199,213.02 199.5,212.92 200,213.1 200.5,213.06 201,212.88 201.5,213.02 202,212.85 202.5,212.94 203,212.99 203.5,213.02 204,213.14 204.5,212.66 205,212.89 205.5,213.18 206,213 206.5,212.99 207,213.19 207.5,213.18 208,213 208.5,213.17 209,213 209.5,213 210,213.13 210.5,213.2 211,213.15 211.5,212.91 212,213.26 212.5,212.69 213,213.11 213.5,213.2 214,213.34 214.5,213.17 215,213.33 215.5,212.79 216,213.17 216.5,213.11 217,213.05 217.5,213.42 218,213.25 218.5,213.02 219,213.1 219.5,213.36 220,213.32 220.5,213.07 221,213.49 221.5,213.07 222,213.43 222.5,213.49 223,213.11 223.5,213.27 224,213.5 224.5,213.6 225,213.24 225.5,213.6 226,213.25 226.5,213.34 227,213.58 227.5,213.49 228,213.31 228.5,213.61 229,212.93 229.5,213.53 230,213.42 230.5,213.54 231,213.71 231.5,213.6 232,213.28 232.5,213.43 233,213.54 233.5,213.43 234,213.76 234.5,213.55 235,213.78 235.5,213.79 236,213.76 236.5,213.26 237,213.74 237.5,213.36 237.5,219.33 237,219.25 236.5,219.53 236,219.04 235.5,219.69 235,218.97 234.5,219.09 234,219.2 233.5,219.08 233,218.97 232.5,219.17 232,219.04 231.5,219.4 231,219.17 230.5,219.57 230,219.43 229.5,219.09 229,219.7 228.5,219.43 228,218.93 227.5,219.24 227,218.87 226.5,218.95 226,218.97 225.5,219.23 225,219.12 224.5,219.25 224,219.16 223.5,218.85 223,219.3 222.5,219.89 222,218.93 221.5,219.24 221,218.77 220.5,218.72 220,219.01 219.5,219.2 219,218.71 218.5,218.86 218,218.81 217.5,219.21 217,218.72 216.5,219.04 216,218.75 215.5,219.31 215,218.62 214.5,219.51 214,218.74 213.5,219.05 213,218.54 212.5,218.66 212,218.7 211.5,218.74 211,218.78 210.5,218.62 210,218.63 209.5,218.7 209,219.1 208.5,218.64 208,218.92 207.5,219.05 207,218.41 206.5,218.92 206,218.46 205.5,218.99 205,218.36 204.5,218.38 204,218.37 203.5,218.43 203,218.32 202.5,218.6 202,218.68 201.5,218.44 201,218.41 200.5,218.38 200,218.34 199.5,218.29 199,218.24 198.5,218.71 198,218.57 197.5,218.23 197,218.39 196.5,218.2 196,217.98 195.5,217.93 195,218.01 194.5,217.92 194,217.86 193.5,218.13 193,217.87 192.5,217.69 192,217.68 191.5,218.31 191,217.81 190.5,217.64 190,217.78 189.5,217.6 189,217.54 188.5,217.54 188,217.42 187.5,217.52 187,217.67 186.5,217.53 186,217.8 185.5,217.28 185,218.08 184.5,217.55 184,217.82 183.5,217.75 183,217.16 182.5,217.35 182,217.44 181.5,217.52 181,217.06 180.5,217.46 180,217.52 179.5,217.22 179,217.04 178.5,217.33 178,217.63 177.5,217.01 177,216.84 176.5,216.72 176,216.68 175.5,216.43 175,215.88 174.5,215.2 174,215.18 173.5,214.04 173,213.96 172.5,213.5 172,212.27 171.5,211.89 171,211.06 170.5,210.85 170,210.28 169.5,209.85 169,209.66 168.5,209.01 168,208.5 167.5,208.27 167,207.58 166.5,207.38 166,206.59 165.5,205.83 165,205.41 164.5,204.56 164,203.45 163.5,203.03 163,202.04 162.5,200.87 162,200.1 161.5,199.33 161,198.12 160.5,197.5 160,196.13 159.5,195.13 159,193.89 158.5,192.8 158,191.86 157.5,190.68 157,189.28 156.5,188.16 156,187.23 155.5,185.79 155,184.54 154.5,183.36 154,182.17 153.5,181.37 153,179.83 152.5,178.67 152,177.84 151.5,175.75 151,174.97 150.5,173.41 150,172.09 149.5,171.39 149,170.5 148.5,169.83 148,169.3 147.5,167.78 147,166.76 146.5,165.53 146,164.16 145.5,162.91 145,161.59 144.5,160.43 144,159.15 143.5,157.8 143,156.56 142.5,155.29 142,154.32 141.5,152.82 141,151.5 140.5,150.96 140,149.48 139.5,148.03 139,146.95 138.5,145.32 138,144.01 137.5,142.43 137,141.34 136.5,139.79 136,138.34 135.5,137.15 135,135.88 134.5,134.15 134,132.83 133.5,131.42 133,129.96 132.5,128.73 132,127.02 131.5,126.02 131,124.58 130.5,122.35 130,121.36 129.5,119.77 129,117.82 128.5,116.1 128,113.91 127.5,110.97 127,108.76 126.5,104.34 126,100.29"/>
<path d="M237 219.4 L300 219.9 L330 220.3 L350 221.6 L370 223.2 L384.5 224.2" fill="none" stroke="#0a00b4" stroke-width="2.8" stroke-linejoin="round" stroke-linecap="butt"/>
<polygon fill="#0a7dfa" points="126,6.73 126.5,7.1 127,7.68 127.5,7.42 128,7.93 128.5,8.21 129,8.79 129.5,9.27 130,9.52 130.5,9.82 131,10.56 131.5,10.65 132,11.64 132.5,11.85 133,12.41 133.5,12.84 134,13.07 134.5,13.04 135,13.77 135.5,14.36 136,14.84 136.5,15.35 137,15.3 137.5,15.86 138,16.47 138.5,16.84 139,16.47 139.5,17.43 140,17.71 140.5,17.94 141,18.3 141.5,18.55 142,18.76 142.5,18.98 143,19.18 143.5,19.34 144,20.01 144.5,20.15 145,20.47 145.5,20.91 146,21.23 146.5,21.49 147,21.22 147.5,22.09 148,22.52 148.5,22.7 149,22.75 149.5,23.32 150,23.21 150.5,23.71 151,24.13 151.5,24.23 152,23.89 152.5,24.45 153,24.05 153.5,24.85 154,25.37 154.5,25.71 155,25.58 155.5,25.78 156,26.27 156.5,25.87 157,26.72 157.5,27.03 158,27.36 158.5,26.91 159,27.69 159.5,27.72 160,27.52 160.5,27.02 161,27.99 161.5,28.09 162,28.52 162.5,28.57 163,28.25 163.5,29.11 164,28.86 164.5,29.55 165,29.38 165.5,29.65 166,29.82 166.5,29.57 167,30.37 167.5,30.28 168,30.73 168.5,30.24 169,30.39 169.5,30.8 170,31.33 170.5,31.2 171,31.8 171.5,31.68 172,31.86 172.5,32.39 173,32.56 173.5,32.33 174,32.58 174.5,33.19 175,33.15 175.5,33.42 176,33.16 176.5,33.29 177,33.28 177.5,33.85 178,33.71 178.5,34.85 179,34.96 179.5,35.34 180,34.91 180.5,34.9 181,34.89 181.5,36.13 182,36.85 182.5,37.18 183,37.54 183.5,38.73 184,39.41 184.5,40.07 185,40.54 185.5,41.92 186,42.71 186.5,44.36 187,45.03 187.5,45.88 188,47.54 188.5,47.81 189,49.57 189.5,50.84 190,51.64 190.5,51.6 191,53.6 191.5,54.81 192,54.97 192.5,56.41 193,57.57 193.5,58.64 194,58.84 194.5,60.19 195,61.5 195.5,62.61 196,62.75 196.5,64.42 197,65.04 197.5,66.18 198,66.88 198.5,68.08 199,69.06 199.5,69.84 200,70.98 200.5,71.88 201,72.82 201.5,73.79 202,74.9 202.5,75.62 203,76.22 203,89.06 202.5,88.11 202,86.69 201.5,85.76 201,84.34 200.5,83.27 200,82.14 199.5,81.62 199,80.6 198.5,79.05 198,78.74 197.5,77.46 197,75.78 196.5,75.29 196,73.69 195.5,72.97 195,71.9 194.5,71.21 194,70.26 193.5,69.46 193,68.4 192.5,67.35 192,66.83 191.5,65.55 191,64.65 190.5,63.96 190,63.17 189.5,62.15 189,61.85 188.5,60.32 188,59.27 187.5,58.18 187,56.96 186.5,56.64 186,55.02 185.5,54.96 185,53.31 184.5,52.5 184,51.99 183.5,50.74 183,50.4 182.5,49.66 182,48.68 181.5,48.45 181,47.59 180.5,47.06 180,46.75 179.5,46.27 179,45.5 178.5,45.63 178,45.55 177.5,44.76 177,44.79 176.5,44.24 176,45.1 175.5,44.11 175,44.08 174.5,43.25 174,43.23 173.5,43.52 173,43.08 172.5,42.56 172,42.2 171.5,42.14 171,43.03 170.5,41.84 170,41.44 169.5,42.04 169,41.11 168.5,41.12 168,41.39 167.5,40.98 167,40.44 166.5,40.23 166,40.67 165.5,39.74 165,39.69 164.5,39.06 164,39.1 163.5,39.21 163,38.44 162.5,37.95 162,37.93 161.5,37.51 161,37.31 160.5,37.61 160,36.82 159.5,36.55 159,36.37 158.5,36.58 158,35.97 157.5,36 157,35.1 156.5,35.49 156,34.87 155.5,34.43 155,33.96 154.5,34.14 154,33.43 153.5,33.74 153,32.98 152.5,33.43 152,32.54 151.5,32.53 151,31.92 150.5,32.14 150,31.64 149.5,31.28 149,31.02 148.5,30.69 148,30.48 147.5,30.46 147,30.17 146.5,29.91 146,29.6 145.5,29.22 145,29.36 144.5,28.87 144,28.11 143.5,28.06 143,27.39 142.5,27.07 142,26.63 141.5,26.32 141,26.3 140.5,25.44 140,25.31 139.5,24.52 139,24.55 138.5,24.25 138,24.14 137.5,22.87 137,22.89 136.5,22.14 136,21.91 135.5,21.1 135,21.03 134.5,20.65 134,20.56 133.5,19.51 133,18.84 132.5,18.97 132,18.48 131.5,17.94 131,17.19 130.5,16.2 130,16.14 129.5,16.35 129,14.68 128.5,14.28 128,14.15 127.5,13.21 127,12.86 126.5,12.44 126,11.67"/>
<path d="M200.5 78 L200.7 78.46 L200.89 78.92 L201.09 79.38 L201.29 79.84 L201.48 80.3 L201.68 80.76 L201.88 81.22 L202.08 81.68 L202.27 82.14 L202.47 82.6 L202.67 83.06 L202.86 83.51 L203.06 83.97 L203.26 84.43 L203.45 84.89 L203.67 85.34 L203.9 85.79 L204.12 86.24 L204.34 86.69 L204.57 87.13 L204.79 87.58 L205.01 88.03 L205.24 88.47 L205.46 88.92 L205.68 89.37 L205.91 89.82 L206.13 90.26 L206.36 90.71 L206.58 91.16 L206.8 91.6 L207.03 92.05 L207.28 92.48 L207.53 92.91 L207.79 93.35 L208.04 93.78 L208.29 94.21 L208.54 94.64 L208.79 95.07 L209.04 95.51 L209.3 95.94 L209.55 96.37 L209.8 96.8 L210.05 97.23 L210.3 97.66 L210.56 98.1 L210.82 98.52 L211.08 98.95 L211.34 99.38 L211.6 99.8 L211.86 100.23 L212.12 100.66 L212.38 101.08 L212.64 101.51 L212.9 101.94 L213.17 102.36 L213.43 102.79 L213.69 103.22 L213.95 103.64 L214.21 104.07 L214.47 104.49 L214.73 104.92 L214.99 105.35 L215.25 105.77 L215.51 106.2 L215.77 106.63 L216.04 107.05 L216.34 107.45 L216.64 107.85 L216.94 108.25 L217.24 108.65 L217.54 109.05 L217.84 109.45 L218.14 109.85 L218.44 110.25 L218.74 110.65 L219.04 111.05 L219.34 111.45 L219.64 111.85 L219.94 112.25 L220.24 112.65 L220.54 113.05 L220.84 113.45 L221.14 113.85 L221.44 114.25 L221.74 114.65 L222.05 115.05 L222.4 115.4 L222.75 115.75 L223.11 116.11 L223.46 116.46 L223.81 116.81 L224.17 117.17 L224.52 117.52 L224.87 117.87 L225.23 118.23 L225.58 118.58 L225.93 118.93 L226.29 119.29 L226.64 119.64 L227 120 L227.35 120.35 L227.7 120.7 L228.06 121.05 L228.43 121.38 L228.81 121.71 L229.19 122.04 L229.56 122.37 L229.94 122.7 L230.31 123.03 L230.69 123.36 L231.06 123.69 L231.44 124.02 L231.81 124.36 L232.19 124.69 L232.56 125.02 L232.94 125.35 L233.33 125.65 L233.73 125.96 L234.13 126.26 L234.52 126.57 L234.92 126.87 L235.32 127.18 L235.71 127.48 L236.11 127.78 L236.51 128.09 L236.9 128.39 L237.3 128.7 L237.7 129 L238.09 129.31 L238.49 129.61 L238.89 129.91" fill="none" stroke="#0a7dfa" stroke-width="5.5" stroke-linejoin="round" stroke-linecap="round"/><g fill="#0a7dfa"><circle cx="200.22" cy="79.21" r="2.8"/><circle cx="202.79" cy="81.37" r="2.8"/><circle cx="202.79" cy="85.2" r="2.8"/><circle cx="205.81" cy="88.19" r="2.8"/><circle cx="206.43" cy="92.38" r="2.8"/><circle cx="209.49" cy="94.67" r="2.8"/><circle cx="210.03" cy="98.41" r="2.8"/><circle cx="213.18" cy="101.18" r="2.8"/><circle cx="213.96" cy="105.39" r="2.8"/><circle cx="217.66" cy="107.71" r="2.8"/><circle cx="218.13" cy="111.11" r="2.8"/><circle cx="221.42" cy="113.01" r="2.8"/><circle cx="222.67" cy="116.54" r="2.8"/><circle cx="226.39" cy="118.47" r="2.8"/><circle cx="227.62" cy="121.53" r="2.8"/><circle cx="231.18" cy="122.8" r="2.8"/><circle cx="232.83" cy="126.3" r="2.8"/><circle cx="236.97" cy="127.48" r="2.8"/></g>
<path d="M226 119 L226.35 119.35 L226.71 119.71 L227.06 120.06 L227.41 120.41 L227.77 120.77 L228.13 121.11 L228.5 121.44 L228.88 121.77 L229.25 122.1 L229.63 122.43 L230.01 122.76 L230.38 123.1 L230.76 123.43 L231.13 123.76 L231.51 124.09 L231.88 124.42 L232.26 124.75 L232.63 125.08 L233.01 125.41 L233.4 125.72 L233.79 126.03 L234.18 126.34 L234.57 126.66 L234.96 126.97 L235.35 127.28 L235.74 127.59" fill="none" stroke="#0a7dfa" stroke-width="6.3" stroke-linejoin="round" stroke-linecap="round"/><g fill="#0a7dfa"><circle cx="226.31" cy="120.11" r="3.2"/><circle cx="230" cy="122.01" r="3.2"/><circle cx="232.2" cy="125.57" r="3.2"/></g>
<path d="M238 129.2 L238.39 129.52 L238.77 129.84 L239.16 130.16 L239.54 130.48 L239.93 130.8 L240.31 131.11 L240.7 131.43 L241.08 131.75 L241.47 132.07 L241.85 132.39 L242.24 132.71 L242.62 133.03 L243.01 133.35 L243.39 133.67 L243.78 133.99 L244.16 134.3 L244.55 134.62 L244.93 134.94 L245.29 135.29 L245.64 135.64 L246 136 L246.35 136.35 L246.7 136.7 L247.06 137.06 L247.41 137.41 L247.76 137.76 L248.12 138.12 L248.47 138.47 L248.82 138.82" fill="none" stroke="#0a7dfa" stroke-width="4.5" stroke-linejoin="round" stroke-linecap="round"/><g fill="#0a7dfa"><circle cx="238.26" cy="130.46" r="2.3"/><circle cx="241.96" cy="131.47" r="2.3"/><circle cx="243.44" cy="134.39" r="2.3"/><circle cx="247.18" cy="136.23" r="2.3"/></g>
<path d="M248 138 L248.35 138.35 L248.71 138.71 L249.06 139.06 L249.41 139.41 L249.77 139.77 L250.12 140.12 L250.47 140.47 L250.83 140.83 L251.18 141.18 L251.54 141.54 L251.89 141.89 L252.23 142.25 L252.57 142.62 L252.91 142.99 L253.25 143.35 L253.59 143.72 L253.93 144.09 L254.27 144.46 L254.61 144.82 L254.95 145.19 L255.29 145.56 L255.62 145.93 L255.96 146.29 L256.3 146.66 L256.64 147.03 L256.98 147.4 L257.32 147.76 L257.66 148.13 L258 148.5" fill="none" stroke="#0a7dfa" stroke-width="3.5" stroke-linejoin="round" stroke-linecap="round"/><g fill="#0a7dfa"><circle cx="248.39" cy="139.02" r="1.8"/><circle cx="251.93" cy="141.15" r="1.8"/><circle cx="253.74" cy="144.94" r="1.8"/><circle cx="257.4" cy="147.01" r="1.8"/></g>
<path d="M256 146.53 L256.8 147.38 L257.6 147.96 L258.4 148.79 L259.2 149.81 L260 150.75 L260.8 151.4 L261.6 152.09 L262.4 152.73 L263.2 153.6 L264 154.48 L264.8 155.26 L265.6 156.22 L266.4 156.74 L267.2 157.6 L268 158.66 L268.8 159.64 L269.6 160.35 L270.4 161.59 L271.2 162.74 L272 163.42 L272.8 164.73 L273.6 166.1 L274.4 166.86 L275.2 168.71 L276 170.21 L276.8 171.88 L277.6 173.64 L278.4 175.62 L279.2 177.84 L280 180 L280.8 181.69 L281.6 183.2 L282.4 185.17 L283.2 186.33 L284 187.71 L284.8 189.28 L285.6 190.67 L286.4 191.91 L287.2 193.35 L288 194.07 L288.8 195.04 L289.6 196.24 L290.4 196.96 L291.2 197.55 L292 198.28 L292.8 198.86 L293.6 199.43 L294.4 200.05 L295.2 200.72 L296 201.39 L296.8 202.02 L297.6 201.92 L298.4 202.27 L299.2 202.63 L300 203.34 L300.8 203.51 L301.6 203.79 L302.4 204.31 L303.2 204.82 L304 205.16 L304.8 205.67 L305.6 206.14 L306.4 206.45 L307.2 207.23 L308 207.42 L308.8 207.9 L309.6 208.24 L310.4 208.67 L311.2 209.01 L312 209.36 L312.8 209.51 L313.6 209.72 L314.4 209.73 L315.2 209.93 L316 210.22 L316.8 210.09 L317.6 210.37 L318.4 210.64 L319.2 210.55 L320 211.01 L320.8 210.85 L321.6 211.12 L322.4 211.02 L323.2 211.44 L324 211.46 L324.8 211.66 L325.6 211.69 L326.4 211.95 L327.2 212.21 L328 212.39 L328.8 212.51 L329.6 212.84 L330.4 213.01 L331.2 213.55 L332 213.71 L332.8 213.97 L333.6 214.02 L334.4 214.43 L335.2 214.75 L336 214.9 L336.8 215.47 L337.6 215.37 L338.4 215.57 L339.2 215.36 L340 215.9 L340.8 215.97 L341.6 215.89 L342.4 216.64 L343.2 216.62 L344 216.23 L344.8 216.98 L345.6 217.02 L346.4 217.36 L347.2 217.57 L348 217.49 L348.8 218.01 L349.6 217.78 L350.4 217.95 L351.2 217.94 L352 218.51 L352.8 218.26 L353.6 218.36 L354.4 218.5 L355.2 218.55 L356 218.73 L356.8 218.82 L357.6 219.15 L358.4 219.03 L359.2 219.11 L360 219.27 L360.8 219.33 L361.6 219.26 L362.4 219.63 L363.2 219.57 L364 219.48 L364.8 219.69 L365.6 219.74 L366.4 219.82 L367.2 219.89 L368 219.71 L368.8 219.76 L369.6 220.16 L370.4 220.38 L371.2 220.01 L372 220.39 L372.8 220.52 L373.6 220.13 L374.4 220.46 L375.2 220.76 L376 220.37 L376.8 221 L377.6 220.64 L378.4 220.44 L379.2 221.18 L380 220.89 L380.8 221.15 L381.6 220.67 L382.4 220.97 L383.2 221.07 L384 221.02 L384.8 221.17" fill="none" stroke="#0a7dfa" stroke-width="3.3" stroke-linejoin="round" stroke-linecap="butt"/>
</g>
<path d="M186.2 17.6V225.7" stroke="#111" stroke-width="1.7" stroke-dasharray="5.8 5.67" fill="none"/>
<g clip-path="url(#clipP)">
<polygon fill="#0a00b4" points="126,95.21 126.5,95.49 127,95.7 127.5,97.22 128,98.36 128.5,99.66 129,101.63 129.5,102.77 130,104.99 130.5,106.7 131,108.41 131.5,110.06 132,111.91 132.5,112.65 133,114.16 133.5,115.38 134,116.59 134.5,117.46 135,118.95 135.5,120.33 136,121.04 136.5,122.26 137,123.82 137.5,124.12 138,125.84 138.5,127.19 139,128.39 139.5,129.37 140,130.81 140.5,131.8 141,132.66 141.5,133.14 142,134.47 142.5,135.34 143,136.04 143.5,136.38 144,137.74 144.5,138.64 145,138.99 145.5,140.5 146,141.43 146.5,142.03 147,142.98 147.5,143.78 148,144.83 148.5,145.57 149,146.78 149.5,147.72 150,148.98 150.5,149.73 151,150.82 151.5,151.62 152,152.44 152.5,153.16 153,154.18 153.5,155.26 154,155.92 154.5,156.89 155,158.17 155.5,158.9 156,159.74 156.5,160.61 157,161.53 157.5,162.51 158,163.6 158.5,164.74 159,165.95 159.5,166.95 160,167.82 160.5,168.95 161,169.88 161.5,170.85 162,171.33 162.5,171.93 163,172.6 163.5,172.99 164,173.08 164.5,173.12 165,173.87 165.5,173.76 166,174.35 166.5,174.04 167,174.77 167.5,174.7 168,175.39 168.5,175.4 169,176 169.5,175.43 170,176.38 170.5,176.5 171,176.77 171.5,177.27 172,177.88 172.5,178.39 173,178.98 173.5,179.95 174,180.92 174.5,181.58 175,185.36 175.5,192.95 176,206.97 176.5,207.28 177,208.71 177.5,209.97 178,210.15 178.5,210.78 179,211.21 179.5,211.8 180,212.2 180.5,212.43 181,212.53 181.5,212.06 182,212.43 182.5,212.76 183,212.64 183.5,212.56 184,212.64 184.5,212.82 185,212.56 185.5,212.68 186,212.18 186.5,212.84 187,212.56 187.5,212.85 188,212.15 188.5,212.84 189,212.91 189.5,212.97 190,212.43 190.5,212.43 191,212.94 191.5,212.68 192,212.97 192.5,212.76 193,213.03 193.5,212.94 194,212.81 194.5,212.99 195,212.92 195.5,212.84 196,212.97 196.5,212.82 197,212.52 197.5,213 198,212.54 198.5,212.91 199,213.02 199.5,212.92 200,213.1 200.5,213.06 201,212.88 201.5,213.02 202,212.85 202.5,212.94 203,212.99 203.5,213.02 204,213.14 204.5,212.66 205,212.89 205.5,213.18 206,213 206.5,212.99 207,213.19 207.5,213.18 208,213 208.5,213.17 209,213 209.5,213 210,213.13 210.5,213.2 211,213.15 211.5,212.91 212,213.26 212.5,212.69 213,213.11 213.5,213.2 214,213.34 214.5,213.17 215,213.33 215.5,212.79 216,213.17 216.5,213.11 217,213.05 217.5,213.42 218,213.25 218.5,213.02 219,213.1 219.5,213.36 220,213.32 220.5,213.07 221,213.49 221.5,213.07 222,213.43 222.5,213.49 223,213.11 223.5,213.27 224,213.5 224.5,213.6 225,213.24 225.5,213.6 226,213.25 226.5,213.34 227,213.58 227.5,213.49 228,213.31 228.5,213.61 229,212.93 229.5,213.53 230,213.42 230.5,213.54 231,213.71 231.5,213.6 232,213.28 232.5,213.43 233,213.54 233.5,213.43 234,213.76 234.5,213.55 235,213.78 235.5,213.79 236,213.76 236.5,213.26 237,213.74 237.5,213.36 237.5,219.33 237,219.25 236.5,219.53 236,219.04 235.5,219.69 235,218.97 234.5,219.09 234,219.2 233.5,219.08 233,218.97 232.5,219.17 232,219.04 231.5,219.4 231,219.17 230.5,219.57 230,219.43 229.5,219.09 229,219.7 228.5,219.43 228,218.93 227.5,219.24 227,218.87 226.5,218.95 226,218.97 225.5,219.23 225,219.12 224.5,219.25 224,219.16 223.5,218.85 223,219.3 222.5,219.89 222,218.93 221.5,219.24 221,218.77 220.5,218.72 220,219.01 219.5,219.2 219,218.71 218.5,218.86 218,218.81 217.5,219.21 217,218.72 216.5,219.04 216,218.75 215.5,219.31 215,218.62 214.5,219.51 214,218.74 213.5,219.05 213,218.54 212.5,218.66 212,218.7 211.5,218.74 211,218.78 210.5,218.62 210,218.63 209.5,218.7 209,219.1 208.5,218.64 208,218.92 207.5,219.05 207,218.41 206.5,218.92 206,218.46 205.5,218.99 205,218.36 204.5,218.38 204,218.37 203.5,218.43 203,218.32 202.5,218.6 202,218.68 201.5,218.44 201,218.41 200.5,218.38 200,218.34 199.5,218.29 199,218.24 198.5,218.71 198,218.57 197.5,218.23 197,218.39 196.5,218.2 196,217.98 195.5,217.93 195,218.01 194.5,217.92 194,217.86 193.5,218.13 193,217.87 192.5,217.69 192,217.68 191.5,218.31 191,217.81 190.5,217.64 190,217.78 189.5,217.6 189,217.54 188.5,217.54 188,217.42 187.5,217.52 187,217.67 186.5,217.53 186,217.8 185.5,217.28 185,218.08 184.5,217.55 184,217.82 183.5,217.75 183,217.16 182.5,217.35 182,217.44 181.5,217.52 181,217.06 180.5,217.46 180,217.52 179.5,217.22 179,217.04 178.5,217.33 178,217.63 177.5,217.01 177,216.84 176.5,216.72 176,216.68 175.5,216.43 175,215.88 174.5,215.2 174,215.18 173.5,214.04 173,213.96 172.5,213.5 172,212.27 171.5,211.89 171,211.06 170.5,210.85 170,210.28 169.5,209.85 169,209.66 168.5,209.01 168,208.5 167.5,208.27 167,207.58 166.5,207.38 166,206.59 165.5,205.83 165,205.41 164.5,204.56 164,203.45 163.5,203.03 163,202.04 162.5,200.87 162,200.1 161.5,199.33 161,198.12 160.5,197.5 160,196.13 159.5,195.13 159,193.89 158.5,192.8 158,191.86 157.5,190.68 157,189.28 156.5,188.16 156,187.23 155.5,185.79 155,184.54 154.5,183.36 154,182.17 153.5,181.37 153,179.83 152.5,178.67 152,177.84 151.5,175.75 151,174.97 150.5,173.41 150,172.09 149.5,171.39 149,170.5 148.5,169.83 148,169.3 147.5,167.78 147,166.76 146.5,165.53 146,164.16 145.5,162.91 145,161.59 144.5,160.43 144,159.15 143.5,157.8 143,156.56 142.5,155.29 142,154.32 141.5,152.82 141,151.5 140.5,150.96 140,149.48 139.5,148.03 139,146.95 138.5,145.32 138,144.01 137.5,142.43 137,141.34 136.5,139.79 136,138.34 135.5,137.15 135,135.88 134.5,134.15 134,132.83 133.5,131.42 133,129.96 132.5,128.73 132,127.02 131.5,126.02 131,124.58 130.5,122.35 130,121.36 129.5,119.77 129,117.82 128.5,116.1 128,113.91 127.5,110.97 127,108.76 126.5,104.34 126,100.29"/>
</g>
<path d="M126 7.4h3.2M126 18.31h3.2M126 40.14h3.2M126 51.06h3.2M126 61.97h3.2M126 83.81h3.2M126 94.72h3.2M126 105.63h3.2M126 127.47h3.2M126 138.38h3.2M126 149.29h3.2M126 171.12h3.2M126 182.04h3.2M126 192.95h3.2M126 214.78h3.2M126 225.7h3.2M384 217.15h-3.2M384 208.6h-3.2M384 200.06h-3.2M384 191.51h-3.2M384 174.41h-3.2M384 165.86h-3.2M384 157.32h-3.2M384 148.77h-3.2M384 131.67h-3.2M384 123.12h-3.2M384 114.58h-3.2M384 106.03h-3.2M384 88.93h-3.2M384 80.38h-3.2M384 71.84h-3.2M384 63.29h-3.2M384 46.19h-3.2M384 37.64h-3.2M384 29.1h-3.2M384 20.55h-3.2M138.9 225.7v-3M151.8 225.7v-3M164.7 225.7v-3M177.6 225.7v-3M203.4 225.7v-3M216.3 225.7v-3M229.2 225.7v-3M242.1 225.7v-3M267.9 225.7v-3M280.8 225.7v-3M293.7 225.7v-3M306.6 225.7v-3M332.4 225.7v-3M345.3 225.7v-3M358.2 225.7v-3M371.1 225.7v-3" stroke="#8c8c8c" stroke-width="0.6" fill="none"/>
<path d="M126 29.23h6M126 72.89h6M126 116.55h6M126 160.21h6M126 203.87h6M384 225.7h-6.2M384 182.96h-6.2M384 140.22h-6.2M384 97.48h-6.2M384 54.74h-6.2M384 12h-6.2M190.5 225.7v-6M255 225.7v-6M319.5 225.7v-6" stroke="#1c1c1c" stroke-width="1.3" fill="none"/>
<path d="M126 7.2V226.6" stroke="#141414" stroke-width="1.7" fill="none"/>
<text transform="translate(41 36.33) scale(1 1.07)" font-size="20.1">4.0x10<tspan dx="0.9" dy="-9.8" font-size="11.6">+07</tspan></text>
<text transform="translate(41 79.99) scale(1 1.07)" font-size="20.1">2.0x10<tspan dx="0.9" dy="-9.8" font-size="11.6">+07</tspan></text>
<text transform="translate(41 123.65) scale(1 1.07)" font-size="20.1">0.0x10<tspan dx="0.9" dy="-9.8" font-size="11.6">+00</tspan></text>
<text transform="translate(34.6 167.31) scale(1 1.07)" font-size="20.1">-2.0x10<tspan dx="0.9" dy="-9.8" font-size="11.6">+07</tspan></text>
<text transform="translate(34.6 210.97) scale(1 1.07)" font-size="20.1">-4.0x10<tspan dx="0.9" dy="-9.8" font-size="11.6">+07</tspan></text>
<text transform="translate(389.6 19.1) scale(1 1.07)" font-size="20.1">2.5x10<tspan dx="0.9" dy="-9.8" font-size="11.6">+08</tspan></text>
<text transform="translate(389.6 61.84) scale(1 1.07)" font-size="20.1">2.0x10<tspan dx="0.9" dy="-9.8" font-size="11.6">+08</tspan></text>
<text transform="translate(389.6 104.58) scale(1 1.07)" font-size="20.1">1.5x10<tspan dx="0.9" dy="-9.8" font-size="11.6">+08</tspan></text>
<text transform="translate(389.6 147.32) scale(1 1.07)" font-size="20.1">1.0x10<tspan dx="0.9" dy="-9.8" font-size="11.6">+08</tspan></text>
<text transform="translate(389.6 190.06) scale(1 1.07)" font-size="20.1">5.0x10<tspan dx="0.9" dy="-9.8" font-size="11.6">+07</tspan></text>
<text transform="translate(389.6 232.8) scale(1 1.07)" font-size="20.1">0.0x10<tspan dx="0.9" dy="-9.8" font-size="11.6">+00</tspan></text>
<text transform="translate(126 252.2) scale(1 1.07)" font-size="20.1" text-anchor="middle">0</text>
<text transform="translate(190.5 252.2) scale(1 1.07)" font-size="20.1" text-anchor="middle">250</text>
<text transform="translate(255 252.2) scale(1 1.07)" font-size="20.1" text-anchor="middle">500</text>
<text transform="translate(319.5 252.2) scale(1 1.07)" font-size="20.1" text-anchor="middle">750</text>
<text transform="translate(384 252.2) scale(1 1.07)" font-size="20.1" text-anchor="middle">1000</text>
<text transform="translate(255 279.6) scale(1 1.07)" font-size="20.3" text-anchor="middle">Time [yr]</text>
<text transform="translate(19.2 225.6) rotate(-90) scale(1 1.07)" font-size="19.9" textLength="217.0" lengthAdjust="spacing">Groundwater flow [m<tspan dy="-9.6" font-size="10.9">3</tspan><tspan dy="9.6">yr</tspan><tspan dy="-9.6" font-size="10.9">-1</tspan><tspan dy="9.6">]</tspan></text>
<text transform="translate(494.4 227.2) rotate(-90) scale(1 1.07)" font-size="20.3" textLength="219.6" lengthAdjust="spacing">Ice volume under lake [m<tspan dy="-9.6" font-size="10.9">3</tspan><tspan dy="9.6">]</tspan></text>
<text transform="translate(4.8 269.4) scale(1 0.97)" font-size="24.8" font-weight="bold">(b)</text>
</g>
<g transform="translate(0 612.6)">
<path d="M125.1 225.7H384.7" stroke="#141414" stroke-width="1.6" fill="none"/>
<path d="M384 7.8V226.6" stroke="#2a2a2a" stroke-width="1.45" fill="none"/>
<g clip-path="url(#clipP)">
<g fill="#b00d14"><rect x="124.6" y="114.05" width="260.2" height="3.9"/><ellipse cx="125.6" cy="114.25" rx="1.95" ry="0.56"/><ellipse cx="129.58" cy="114.25" rx="1.34" ry="0.67"/><ellipse cx="132.29" cy="114.25" rx="1.52" ry="0.93"/><ellipse cx="134.39" cy="114.25" rx="1.38" ry="0.86"/><ellipse cx="140.12" cy="114.25" rx="1.17" ry="1.41"/><ellipse cx="145.03" cy="114.25" rx="2.63" ry="1.07"/><ellipse cx="149.8" cy="114.25" rx="2.29" ry="1.04"/><ellipse cx="153.28" cy="114.25" rx="2.5" ry="1.17"/><ellipse cx="157.12" cy="114.25" rx="2.47" ry="1.4"/><ellipse cx="163.33" cy="114.25" rx="1.99" ry="0.7"/><ellipse cx="169.37" cy="114.25" rx="2.56" ry="1.13"/><ellipse cx="175.52" cy="114.25" rx="1.51" ry="0.72"/><ellipse cx="181.23" cy="114.25" rx="2.39" ry="1.37"/><ellipse cx="184.53" cy="114.25" rx="2.14" ry="0.97"/><ellipse cx="188.51" cy="114.25" rx="1.84" ry="0.98"/><ellipse cx="194.2" cy="114.25" rx="2.27" ry="0.72"/><ellipse cx="199.13" cy="114.25" rx="1.17" ry="1.38"/><ellipse cx="203.81" cy="114.25" rx="1.88" ry="1.12"/><ellipse cx="205.76" cy="114.25" rx="1.39" ry="0.58"/><ellipse cx="211.11" cy="114.25" rx="1.34" ry="0.7"/><ellipse cx="214.44" cy="114.25" rx="2.29" ry="0.99"/><ellipse cx="219.81" cy="114.25" rx="2.65" ry="0.79"/><ellipse cx="221.63" cy="114.25" rx="1.44" ry="0.89"/><ellipse cx="224.91" cy="114.25" rx="1.95" ry="0.95"/><ellipse cx="228.52" cy="114.25" rx="1.47" ry="0.74"/><ellipse cx="231.3" cy="114.25" rx="1.81" ry="1.21"/><ellipse cx="235.68" cy="114.25" rx="1.83" ry="0.99"/><ellipse cx="240.75" cy="114.25" rx="1.61" ry="1.05"/><ellipse cx="246.91" cy="114.25" rx="1.34" ry="0.75"/><ellipse cx="251.43" cy="114.25" rx="1.41" ry="0.99"/><ellipse cx="253.65" cy="114.25" rx="1.59" ry="1.04"/><ellipse cx="255.83" cy="114.25" rx="2.17" ry="0.99"/><ellipse cx="257.72" cy="114.25" rx="1.24" ry="1"/><ellipse cx="263.05" cy="114.25" rx="1.55" ry="1.23"/><ellipse cx="265.23" cy="114.25" rx="1.98" ry="1.38"/><ellipse cx="267.55" cy="114.25" rx="2.53" ry="0.65"/><ellipse cx="271.76" cy="114.25" rx="2.08" ry="0.78"/><ellipse cx="274.91" cy="114.25" rx="1.94" ry="1.26"/><ellipse cx="281.04" cy="114.25" rx="2.64" ry="1.02"/><ellipse cx="283.89" cy="114.25" rx="1.96" ry="1.02"/><ellipse cx="289.33" cy="114.25" rx="2.52" ry="0.62"/><ellipse cx="294.72" cy="114.25" rx="1.16" ry="0.92"/><ellipse cx="299.94" cy="114.25" rx="2.66" ry="1.16"/><ellipse cx="304.21" cy="114.25" rx="1.62" ry="1.42"/><ellipse cx="307.48" cy="114.25" rx="2.29" ry="1.21"/><ellipse cx="312.51" cy="114.25" rx="2.32" ry="1.35"/><ellipse cx="317.34" cy="114.25" rx="2.2" ry="1.31"/><ellipse cx="320.44" cy="114.25" rx="1.52" ry="1.3"/><ellipse cx="325.37" cy="114.25" rx="1.75" ry="1.03"/><ellipse cx="327.9" cy="114.25" rx="1.24" ry="1.35"/><ellipse cx="333.29" cy="114.25" rx="1.89" ry="1.17"/><ellipse cx="338.04" cy="114.25" rx="2.56" ry="0.8"/><ellipse cx="340.57" cy="114.25" rx="1.89" ry="1.07"/><ellipse cx="345.36" cy="114.25" rx="2.72" ry="0.98"/><ellipse cx="350.97" cy="114.25" rx="1.14" ry="1.36"/><ellipse cx="353.4" cy="114.25" rx="2.35" ry="0.98"/><ellipse cx="356.75" cy="114.25" rx="1.18" ry="1.06"/><ellipse cx="361.39" cy="114.25" rx="1.77" ry="1.16"/><ellipse cx="363.73" cy="114.25" rx="2.36" ry="0.92"/><ellipse cx="368.11" cy="114.25" rx="2.08" ry="1.35"/><ellipse cx="370.64" cy="114.25" rx="1.19" ry="1.08"/><ellipse cx="375.75" cy="114.25" rx="2.64" ry="0.73"/><ellipse cx="379.63" cy="114.25" rx="1.33" ry="0.95"/></g>
<path d="M124.6 117.26 L125.3 117.35 L126 117.45 L126.7 117.39 L127.4 117.33 L128.1 117.57 L128.8 117.38 L129.5 117.37 L130.2 117.32 L130.9 117.48 L131.6 117.37 L132.3 117.27 L133 117.34 L133.7 117.32 L134.4 117.48 L135.1 117.32 L135.8 117.37 L136.5 117.56 L137.2 117.39 L137.9 117.26 L138.6 117.45 L139.3 117.26 L140 117.28 L140.7 117.49 L141.4 117.69 L142.1 117.33 L142.8 117.59 L143.5 117.47 L144.2 117.58 L144.9 117.52 L145.6 117.38 L146.3 117.36 L147 117.26 L147.7 117.72 L148.4 117.47 L149.1 117.42 L149.8 117.67 L150.5 117.43 L151.2 117.31 L151.9 117.41 L152.6 117.48 L153.3 117.35 L154 117.52 L154.7 117.25 L155.4 117.28 L156.1 117.41 L156.8 117.31 L157.5 117.49 L158.2 117.29 L158.9 117.42 L159.6 117.41 L160.3 117.62 L161 117.26 L161.7 117.26 L162.4 117.41 L163.1 117.29 L163.8 117.54 L164.5 117.36 L165.2 117.35 L165.9 117.31 L166.6 117.75 L167.3 117.32 L168 117.26 L168.7 117.4 L169.4 117.31 L170.1 117.44 L170.8 117.5 L171.5 117.38 L172.2 117.28 L172.9 117.65 L173.6 117.48 L174.3 117.3 L175 117.53 L175.7 117.26 L176.4 117.41 L177.1 117.25 L177.8 117.43 L178.5 117.34 L179.2 117.44 L179.9 117.32 L180.6 117.47 L181.3 117.36 L182 117.73 L182.7 117.37 L183.4 117.47 L184.1 117.65 L184.8 117.36 L185.5 117.56 L186.2 117.42 L186.9 117.29 L187.6 117.26 L188.3 117.29 L189 117.29 L189.7 117.32 L190.4 117.44 L191.1 117.35 L191.8 117.35 L192.5 117.28 L193.2 117.44 L193.9 117.31 L194.6 117.4 L195.3 117.38 L196 117.37 L196.7 117.28 L197.4 117.57 L198.1 117.29 L198.8 117.26 L199.5 117.32 L200.2 117.27 L200.9 117.3 L201.6 117.66 L202.3 117.34 L203 117.59 L203.7 117.34 L204.4 117.53 L205.1 117.43 L205.8 117.52 L206.5 117.34 L207.2 117.37 L207.9 117.29 L208.6 117.33 L209.3 117.6 L210 117.32 L210.7 117.5 L211.4 117.39 L212.1 117.35 L212.8 117.38 L213.5 117.46 L214.2 117.39 L214.9 117.64 L215.6 117.46 L216.3 117.33 L217 117.49 L217.7 117.48 L218.4 117.48 L219.1 117.29 L219.8 117.31 L220.5 117.42 L221.2 117.39 L221.9 117.48 L222.6 117.42 L223.3 117.47 L224 117.31 L224.7 117.43 L225.4 117.26 L226.1 117.35 L226.8 117.27 L227.5 117.38 L228.2 117.53 L228.9 117.56 L229.6 117.27 L230.3 117.29 L231 117.35 L231.7 117.45 L232.4 117.56 L233.1 117.37 L233.8 117.4 L234.5 117.32 L235.2 117.28 L235.9 117.29 L236.6 117.33 L237.3 117.43 L238 117.55 L238.7 117.39 L239.4 117.27 L240.1 117.46 L240.8 117.32 L241.5 117.55 L242.2 117.26 L242.9 117.54 L243.6 117.28 L244.3 117.35 L245 117.69 L245.7 117.47 L246.4 117.57 L247.1 117.26 L247.8 117.67 L248.5 117.3 L249.2 117.3 L249.9 117.51 L250.6 117.29 L251.3 117.46 L252 117.38 L252.7 117.32 L253.4 117.34 L254.1 117.32 L254.8 117.37 L255.5 117.52 L256.2 117.53 L256.9 117.64 L257.6 117.44 L258.3 117.32 L259 117.45 L259.7 117.29 L260.4 117.31 L261.1 117.26 L261.8 117.3 L262.5 117.43 L263.2 117.35 L263.9 117.45 L264.6 117.34 L265.3 117.27 L266 117.5 L266.7 117.57 L267.4 117.33 L268.1 117.54 L268.8 117.53 L269.5 117.68 L270.2 117.33 L270.9 117.34 L271.6 117.63 L272.3 117.39 L273 117.29 L273.7 117.37 L274.4 117.47 L275.1 117.41 L275.8 117.46 L276.5 117.62 L277.2 117.45 L277.9 117.3 L278.6 117.29 L279.3 117.29 L280 117.51 L280.7 117.31 L281.4 117.45 L282.1 117.63 L282.8 117.69 L283.5 117.27 L284.2 117.49 L284.9 117.48 L285.6 117.29 L286.3 117.6 L287 117.64 L287.7 117.58 L288.4 117.33 L289.1 117.45 L289.8 117.38 L290.5 117.27 L291.2 117.43 L291.9 117.49 L292.6 117.38 L293.3 117.26 L294 117.33 L294.7 117.38 L295.4 117.53 L296.1 117.64 L296.8 117.3 L297.5 117.31 L298.2 117.4 L298.9 117.32 L299.6 117.28 L300.3 117.62 L301 117.26 L301.7 117.34 L302.4 117.5 L303.1 117.4 L303.8 117.4 L304.5 117.27 L305.2 117.39 L305.9 117.26 L306.6 117.33 L307.3 117.28 L308 117.43 L308.7 117.25 L309.4 117.3 L310.1 117.33 L310.8 117.32 L311.5 117.32 L312.2 117.31 L312.9 117.48 L313.6 117.35 L314.3 117.6 L315 117.29 L315.7 117.47 L316.4 117.29 L317.1 117.33 L317.8 117.45 L318.5 117.47 L319.2 117.26 L319.9 117.37 L320.6 117.42 L321.3 117.46 L322 117.5 L322.7 117.55 L323.4 117.41 L324.1 117.27 L324.8 117.74 L325.5 117.34 L326.2 117.69 L326.9 117.81 L327.6 117.45 L328.3 117.32 L329 117.81 L329.7 117.27 L330.4 117.54 L331.1 117.25 L331.8 117.31 L332.5 117.38 L333.2 117.43 L333.9 117.51 L334.6 117.49 L335.3 117.35 L336 117.27 L336.7 117.64 L337.4 117.37 L338.1 117.27 L338.8 117.52 L339.5 117.53 L340.2 117.51 L340.9 117.36 L341.6 117.33 L342.3 117.4 L343 117.49 L343.7 117.49 L344.4 117.34 L345.1 117.3 L345.8 117.45 L346.5 117.47 L347.2 117.79 L347.9 117.27 L348.6 117.37 L349.3 117.7 L350 117.38 L350.7 117.4 L351.4 117.28 L352.1 117.35 L352.8 117.46 L353.5 117.26 L354.2 117.26 L354.9 117.45 L355.6 117.45 L356.3 117.34 L357 117.62 L357.7 117.41 L358.4 117.43 L359.1 117.37 L359.8 117.41 L360.5 117.32 L361.2 117.34 L361.9 117.64 L362.6 117.55 L363.3 117.32 L364 117.32 L364.7 117.47 L365.4 117.3 L366.1 117.34 L366.8 117.52 L367.5 117.41 L368.2 117.33 L368.9 117.33 L369.6 117.3 L370.3 117.28 L371 117.42 L371.7 117.26 L372.4 117.37 L373.1 117.34 L373.8 117.34 L374.5 117.31 L375.2 117.41 L375.9 117.52 L376.6 117.45 L377.3 117.51 L378 117.25 L378.7 117.47 L379.4 117.28 L380.1 117.57 L380.8 117.37 L381.5 117.44 L382.2 117.3 L382.9 117.57 L383.6 117.38 L384.3 117.36" fill="none" stroke="#50a80d" stroke-width="3" stroke-linejoin="round" stroke-linecap="butt"/>
<g fill="#50a80d"><circle cx="128.17" cy="119.17" r="1.08"/><circle cx="131.76" cy="118.81" r="1.04"/><circle cx="134.91" cy="118.9" r="1.01"/><circle cx="138.99" cy="118.7" r="1.14"/><circle cx="144.85" cy="118.85" r="0.99"/><circle cx="151.07" cy="119.12" r="0.73"/><circle cx="154.71" cy="118.84" r="1.11"/><circle cx="159.59" cy="118.76" r="0.7"/><circle cx="165.68" cy="118.77" r="0.91"/><circle cx="169.5" cy="119.13" r="0.91"/><circle cx="175.16" cy="119.06" r="0.76"/><circle cx="179.93" cy="118.76" r="0.74"/><circle cx="185.59" cy="118.93" r="0.78"/><circle cx="190.19" cy="118.99" r="1.09"/><circle cx="195.18" cy="118.98" r="0.79"/><circle cx="198.61" cy="118.95" r="0.9"/><circle cx="202.96" cy="119.18" r="1.15"/><circle cx="207.39" cy="119.11" r="1.11"/><circle cx="210.79" cy="118.74" r="0.93"/><circle cx="216.63" cy="118.77" r="0.82"/><circle cx="222.62" cy="118.76" r="1.16"/><circle cx="226.03" cy="119.01" r="1.18"/><circle cx="229.51" cy="118.93" r="1.19"/><circle cx="232.94" cy="118.8" r="1.04"/><circle cx="238.65" cy="118.93" r="0.75"/><circle cx="243.53" cy="118.74" r="0.73"/><circle cx="247.35" cy="119.15" r="1.1"/><circle cx="251.32" cy="118.75" r="0.76"/><circle cx="255.86" cy="118.95" r="0.95"/><circle cx="258.86" cy="119.1" r="1"/><circle cx="264.25" cy="118.93" r="0.74"/><circle cx="269.04" cy="118.92" r="0.7"/><circle cx="271.74" cy="118.91" r="1.14"/><circle cx="275.9" cy="119.02" r="0.98"/><circle cx="279.32" cy="118.85" r="0.7"/><circle cx="282.33" cy="118.96" r="1.02"/><circle cx="285.4" cy="119.05" r="1"/><circle cx="291.56" cy="119.12" r="0.96"/><circle cx="296.36" cy="118.74" r="1.18"/><circle cx="302.27" cy="118.98" r="0.84"/><circle cx="307.21" cy="118.91" r="1.01"/><circle cx="311.22" cy="118.85" r="0.9"/><circle cx="316.96" cy="119.12" r="0.84"/><circle cx="320.76" cy="118.94" r="0.89"/><circle cx="324.52" cy="118.96" r="0.75"/><circle cx="327.13" cy="118.8" r="1.18"/><circle cx="332.52" cy="118.96" r="0.76"/><circle cx="338.82" cy="119.14" r="1.18"/><circle cx="343.47" cy="118.85" r="0.79"/><circle cx="348.95" cy="118.78" r="1"/><circle cx="354.26" cy="118.98" r="1.1"/><circle cx="360.28" cy="118.74" r="0.76"/><circle cx="363.23" cy="118.84" r="0.98"/><circle cx="367.43" cy="118.92" r="1.04"/><circle cx="370.51" cy="118.76" r="0.77"/><circle cx="376.23" cy="118.89" r="1.01"/><circle cx="382.19" cy="118.79" r="0.73"/></g>
<path d="M124.6 116.5 L384.8 116.6" fill="none" stroke="#ff7f0c" stroke-width="3.4" stroke-linejoin="round" stroke-linecap="butt"/>
<polygon fill="#0a00b4" points="126,95.21 126.5,95.49 127,95.7 127.5,97.22 128,98.36 128.5,99.66 129,101.63 129.5,102.77 130,104.99 130.5,106.7 131,108.41 131.5,110.06 132,111.91 132.5,112.65 133,114.16 133.5,115.38 134,116.59 134.5,117.46 135,118.95 135.5,120.33 136,121.04 136.5,122.26 137,123.82 137.5,124.12 138,125.84 138.5,127.19 139,128.39 139.5,129.37 140,130.81 140.5,131.8 141,132.66 141.5,133.14 142,134.47 142.5,135.34 143,136.04 143.5,136.38 144,137.74 144.5,138.64 145,138.99 145.5,140.5 146,141.43 146.5,142.03 147,142.98 147.5,143.78 148,144.83 148.5,145.57 149,146.78 149.5,147.72 150,148.98 150.5,149.73 151,150.82 151.5,151.62 152,152.44 152.5,153.16 153,154.18 153.5,155.26 154,155.92 154.5,156.89 155,158.17 155.5,158.9 156,159.74 156.5,160.61 157,161.53 157.5,162.51 158,163.6 158.5,164.74 159,165.95 159.5,166.95 160,167.82 160.5,168.95 161,169.88 161.5,170.85 162,171.33 162.5,171.93 163,172.6 163.5,172.99 164,173.08 164.5,173.12 165,173.87 165.5,173.76 166,174.35 166.5,174.04 167,174.77 167.5,174.7 168,175.39 168.5,175.4 169,176 169.5,175.43 170,176.38 170.5,176.5 171,176.77 171.5,177.27 172,177.88 172.5,178.39 173,178.98 173.5,179.95 174,180.92 174.5,181.58 175,185.36 175.5,192.95 176,206.97 176.5,207.28 177,208.71 177.5,209.97 178,210.15 178.5,210.78 179,211.21 179.5,211.8 180,212.2 180.5,212.43 181,212.53 181.5,212.06 182,212.43 182.5,212.76 183,212.64 183.5,212.56 184,212.64 184.5,212.82 185,212.56 185.5,212.68 186,212.18 186.5,212.84 187,212.56 187.5,212.85 188,212.15 188.5,212.84 189,212.91 189.5,212.97 190,212.43 190.5,212.43 191,212.94 191.5,212.68 192,212.97 192.5,212.76 193,213.03 193.5,212.94 194,212.81 194.5,212.99 195,212.92 195.5,212.84 196,212.97 196.5,212.82 197,212.52 197.5,213 198,212.54 198.5,212.91 199,213.02 199.5,212.92 200,213.1 200.5,213.06 201,212.88 201.5,213.02 202,212.85 202.5,212.94 203,212.99 203.5,213.02 204,213.14 204.5,212.66 205,212.89 205.5,213.18 206,213 206.5,212.99 207,213.19 207.5,213.18 208,213 208.5,213.17 209,213 209.5,213 210,213.13 210.5,213.2 211,213.15 211.5,212.91 212,213.26 212.5,212.69 213,213.11 213.5,213.2 214,213.34 214.5,213.17 215,213.33 215.5,212.79 216,213.17 216.5,213.11 217,213.05 217.5,213.42 218,213.25 218.5,213.02 219,213.1 219.5,213.36 220,213.32 220.5,213.07 221,213.48 221.5,213.07 222,213.42 222.5,213.48 223,213.1 223.5,213.25 224,213.48 224.5,213.58 225,213.23 225.5,213.58 226,213.23 226.5,213.32 227,213.56 227.5,213.47 228,213.28 228.5,213.58 229,212.9 229.5,213.5 230,213.39 230.5,213.51 231,213.68 231.5,213.56 232,213.24 232.5,213.39 233,213.5 233.5,213.39 234,213.71 234.5,213.5 235,213.73 235.5,213.73 236,213.7 236.5,213.21 237,213.68 237.5,213.3 238,213.56 238.5,213.51 239,213.1 239.5,213.56 240,213.3 240.5,213.79 241,213.65 241,219.65 240.5,219.21 240,219.16 239.5,219.74 239,219.19 238.5,219.31 238,219.16 237.5,219.07 237,219.65 236.5,219.08 236,219.2 235.5,218.95 235,218.98 234.5,219.26 234,219.24 233.5,219.16 233,219.43 232.5,218.95 232,219.6 231.5,218.88 231,219 230.5,219.12 230,219 229.5,218.89 229,219.08 228.5,218.96 228,219.32 227.5,219.1 227,219.5 226.5,219.35 226,219.02 225.5,219.62 225,219.36 224.5,218.86 224,219.17 223.5,218.8 223,218.88 222.5,218.91 222,219.16 221.5,219.05 221,219.19 220.5,219.1 220,218.79 219.5,219.24 219,219.83 218.5,218.86 218,219.16 217.5,218.69 217,218.64 216.5,218.92 216,219.12 215.5,218.62 215,218.78 214.5,218.73 214,219.12 213.5,218.63 213,218.95 212.5,218.66 212,219.22 211.5,218.53 211,219.42 210.5,218.65 210,218.97 209.5,218.45 209,218.57 208.5,218.61 208,218.65 207.5,218.69 207,218.53 206.5,218.55 206,218.61 205.5,219.01 205,218.55 204.5,218.83 204,218.96 203.5,218.32 203,218.83 202.5,218.37 202,218.9 201.5,218.27 201,218.29 200.5,218.29 200,218.34 199.5,218.21 199,218.47 198.5,218.52 198,218.26 197.5,218.21 197,218.16 196.5,218.09 196,218.04 195.5,218 195,218.46 194.5,218.32 194,217.99 193.5,218.15 193,217.95 192.5,217.73 192,217.69 191.5,217.76 191,217.68 190.5,217.62 190,217.89 189.5,217.63 189,217.46 188.5,217.46 188,218.1 187.5,217.61 187,217.46 186.5,217.6 186,217.42 185.5,217.36 185,217.37 184.5,217.24 184,217.34 183.5,217.49 183,217.36 182.5,217.62 182,217.11 181.5,217.91 181,217.39 180.5,217.66 180,217.59 179.5,217.01 179,217.18 178.5,217.24 178,217.29 177.5,216.8 177,217.15 176.5,217.17 176,216.82 175.5,216.26 175,216.06 174.5,215.78 174,214.71 173.5,214.1 173,213.55 172.5,212.95 172,212.51 171.5,211.88 171,211.2 170.5,211.26 170,210.2 169.5,210.21 169,209.96 168.5,208.93 168,208.77 167.5,207.97 167,207.6 166.5,206.86 166,206.27 165.5,205.91 165,205.1 164.5,204.17 164,203.69 163.5,202.74 163,202.3 162.5,201.26 162,200.25 161.5,199.41 161,198.4 160.5,197.12 160,196.53 159.5,195.24 159,193.78 158.5,192.73 158,191.83 157.5,190.5 157,189.75 156.5,188.25 156,187.26 155.5,185.89 155,184.67 154.5,183.61 154,182.3 153.5,180.78 153,179.53 152.5,178.48 152,177.04 151.5,175.79 151,174.61 150.5,173.42 150,172.62 149.5,171.58 149,170.92 148.5,170.59 148,169 147.5,168.22 147,166.66 146.5,165.34 146,164.14 145.5,162.75 145,161.58 144.5,160.55 144,159.03 143.5,158.01 143,156.78 142.5,155.41 142,154.16 141.5,152.84 141,151.68 140.5,150.4 140,149.05 139.5,147.73 139,146.37 138.5,145.32 138,143.74 137.5,142.33 137,141.71 136.5,140.08 136,138.56 135.5,137.42 135,135.72 134.5,134.34 134,132.69 133.5,131.54 133,129.99 132.5,128.54 132,127.35 131.5,125.91 131,124 130.5,122.52 130,120.93 129.5,119.31 129,117.9 128.5,116.02 128,113.93 127.5,111.38 127,108.07 126.5,104.64 126,100.63"/>
<path d="M240 218.6 L385.3 218.8" fill="none" stroke="#0a00b4" stroke-width="2.7" stroke-linejoin="round" stroke-linecap="butt"/>
<polygon fill="#0a7dfa" points="126,6.21 126.5,7.22 127,7.48 127.5,6.86 128,8.4 128.5,8.63 129,8.91 129.5,9.38 130,9.71 130.5,9.86 131,10.38 131.5,11 132,11.34 132.5,11.83 133,11.94 133.5,12.46 134,13.07 134.5,13.09 135,14.19 135.5,14.29 136,14.51 136.5,15.26 137,15.47 137.5,15.5 138,16.32 138.5,16.88 139,16.9 139.5,17.25 140,17.77 140.5,17.9 141,18.38 141.5,18.57 142,19.02 142.5,19.22 143,19.63 143.5,19.93 144,20.12 144.5,19.91 145,20.13 145.5,20.53 146,21.29 146.5,21.15 147,21.92 147.5,22.26 148,22.12 148.5,22.42 149,23.1 149.5,23.45 150,23.04 150.5,23.44 151,23.88 151.5,24.01 152,24.01 152.5,24.43 153,24.67 153.5,24.97 154,24.66 154.5,25 155,25.49 155.5,25.55 156,25.19 156.5,25.49 157,25.89 157.5,26.39 158,25.63 158.5,26.4 159,26.71 159.5,26.42 160,26.81 160.5,27.28 161,27.42 161.5,27.62 162,27.73 162.5,28 163,27.74 163.5,28.06 164,28.42 164.5,28.55 165,28.71 165.5,28.34 166,29.06 166.5,28.72 167,29.32 167.5,29.05 168,29.58 168.5,29.92 169,30.19 169.5,30.2 170,32.55 170.5,33.06 171,30.85 171.5,31.14 172,30.85 172.5,31.17 173,31.74 173.5,31.82 174,33.93 174.5,33.92 175,31.96 175.5,32.43 176,32.41 176.5,32.93 177,32.39 177.5,33 178,33.09 178.5,33.6 179,33.76 179.5,33.14 180,33.12 180.5,34.26 181,33.57 181.5,33.71 182,33.85 182.5,34.55 183,34.98 183.5,35 184,35.2 184.5,35.55 185,35.45 185.5,35.85 186,35.4 186.5,36.15 187,36.33 187.5,35.75 188,36.23 188.5,36.9 189,36.88 189.5,37.18 190,36.65 190.5,37.41 191,37.55 191.5,37.87 192,37.77 192.5,37.85 193,38.35 193.5,37.96 194,38.44 194.5,38.99 195,38.97 195.5,39.29 196,38.84 196.5,39.3 197,39.75 197.5,40.02 198,39.67 198.5,40.11 199,40.38 199.5,40.68 200,40.75 200.5,40.92 201,40.91 201.5,41.2 202,41.45 202.5,41.47 203,41.52 203.5,41.86 204,42.17 204.5,42.42 205,42.22 205.5,42.44 206,45.26 206.5,45.27 207,43.37 207.5,43.29 208,43.48 208.5,43.13 209,43.42 209.5,43.56 210,44.43 210.5,44.21 211,44.63 211.5,44.56 212,44.97 212.5,45.09 213,45.2 213.5,45.34 214,45.7 214.5,45.92 215,45.66 215.5,46.28 216,45.87 216.5,46.02 217,46.8 217.5,46.94 218,47.15 218.5,46.66 219,46.93 219.5,47.7 220,47.21 220.5,47.56 221,47.91 221.5,48.38 222,47.81 222.5,47.98 223,48.73 223.5,49.07 224,49.08 224.5,48.74 225,51.73 225.5,51.81 226,49.22 226.5,49.35 227,49.57 227.5,50.29 228,50.11 228.5,50.18 229,50.56 229.5,50.56 230,50.7 230.5,50.98 231,51.58 231.5,51.26 232,51.31 232.5,52.24 233,51.61 233.5,52.72 234,52.85 234.5,53.09 235,53.44 235.5,52.94 236,53.81 236.5,53.32 237,54.19 237.5,54.61 238,54.84 238.5,54.54 239,54.44 239.5,55.6 240,55.69 240.5,56.1 241,56.21 241.5,56.25 242,56.7 242.5,57.01 243,57.06 243.5,57.45 244,57.91 244.5,57.95 245,58.03 245.5,58.67 246,58.41 246.5,58.76 247,59.54 247.5,59.77 248,59.72 248.5,60.07 249,60.35 249.5,60.84 250,60.89 250.5,61.54 251,61.77 251.5,61.92 252,62.34 252.5,62.06 253,62.27 253.5,62.93 254,63.48 254.5,63.69 255,64.02 255.5,63.74 256,64.41 256.5,64.43 257,64.49 257.5,65.37 258,65.77 258.5,66.12 259,65.97 259.5,66.67 260,66.71 260.5,66.77 261,67.08 261.5,67.7 262,70.05 262.5,70 263,68.3 263.5,68.89 264,68.98 264.5,69.47 265,69.8 265.5,69.55 266,70.49 266.5,70.55 267,71.07 267.5,71.17 268,71.76 268.5,71.86 269,72.21 269.5,72.69 270,72.98 270.5,72.55 271,73.7 271.5,73.43 272,74.14 272.5,74.61 273,75.25 273.5,75.38 274,74.91 274.5,75.77 275,78.56 275.5,79.03 276,77.59 276.5,78.01 277,78.3 277.5,78.7 278,78.53 278.5,79.3 279,79.77 279.5,80.56 280,80.89 280.5,81.11 281,82.03 281.5,82.48 282,83 282.5,82.76 283,83.74 283.5,84.11 284,84.53 284.5,85.46 285,85.88 285.5,85.79 286,86.33 286.5,86.67 287,87.98 287.5,88.1 288,88.82 288.5,89.51 289,89.68 289.5,90.48 290,92.99 290.5,93.72 291,91.04 291.5,92.15 292,92.82 292.5,93.4 293,93.59 293.5,93.74 294,94.82 294.5,94.74 295,95.6 295.5,95.43 296,98.26 296.5,98.96 297,96.85 297.5,97.68 298,97.59 298.5,97.99 299,98.76 299.5,99.46 300,99.92 300.5,99.58 301,99.88 301.5,100.58 302,100.22 302.5,100.86 303,100.68 303.5,101.01 304,100.62 304.5,100.64 305,101.08 305.5,101.04 306,103.08 306.5,103.18 307,100.71 307.5,100.46 308,101.35 308.5,101.44 309,101.47 309.5,101.38 310,103.28 310.5,103.59 311,100.96 311.5,100.96 312,100.51 312.5,101.37 313,101.47 313.5,101.31 314,100.87 314.5,101.34 315,101.6 315.5,101.46 316,101.15 316.5,101.25 317,101.35 317.5,101.12 318,103.83 318.5,103.24 319,101.28 319.5,101.61 320,101.64 320.5,101.45 321,101.22 321.5,101.83 322,101.83 322.5,101.8 323,102.09 323.5,101.91 324,101.64 324.5,102.17 325,104.31 325.5,104.38 326,101.94 326.5,102.24 327,102.55 327.5,102.33 328,102.54 328.5,102.26 329,102.49 329.5,102.81 330,102.64 330.5,102.71 331,102.64 331.5,108.21 332,108.24 332.5,108.76 333,108.87 333.5,108.28 334,109.18 334.5,107.76 335,108.82 335.5,109.44 336,109.66 336.5,109.14 337,109.41 337.5,109.75 338,110.04 338.5,110.06 339,109.8 339.5,110.19 340,109.75 340.5,110.3 341,110.37 341.5,110.61 342,110.22 342.5,110.37 343,111.1 343.5,111.31 344,111.48 344.5,111.71 345,111.36 345.5,111.31 346,111.65 346.5,112.3 347,112.43 347.5,112.25 348,112.49 348.5,112.48 349,118.61 349.5,119.04 350,119.23 350.5,119.15 351,119.25 351.5,118.83 352,119.09 352.5,119.16 353,118.35 353.5,119.02 354,118.64 354.5,119.39 355,118.95 355.5,118.69 356,119.3 356.5,118.78 357,119.35 357.5,119.27 358,118.91 358.5,119.16 359,119.3 359.5,118.49 360,119.57 360.5,119.56 361,119.47 361.5,119.51 362,119.55 362.5,119.07 363,119.38 363.5,118.97 364,119.6 364.5,119.57 365,119.14 365.5,119.74 366,119.77 366.5,119.5 367,119.41 367.5,119.56 368,119.76 368.5,119.48 369,119.77 369.5,119.38 370,119.79 370.5,119.72 371,119.72 371.5,119.85 372,119.43 372.5,119.79 373,119.98 373.5,121.15 374,125.14 374.5,125 375,125.51 375.5,125.5 376,125.19 376.5,125.58 377,125.4 377.5,125.38 378,126 378.5,125.62 379,126.05 379.5,125.73 380,125.41 380.5,126.38 381,126.39 381.5,126.48 382,125.94 382.5,126.39 383,125.71 383.5,126.41 384,126.78 384.5,126.54 384.5,141.35 384,141.77 383.5,141.48 383,141.08 382.5,141.33 382,141.07 381.5,141.16 381,141.44 380.5,140.92 380,141.02 379.5,140.85 379,140.55 378.5,140.59 378,140.53 377.5,140.96 377,140.95 376.5,141.01 376,140.44 375.5,140.09 375,140.21 374.5,139.78 374,140.48 373.5,139.78 373,139.62 372.5,139.57 372,140.27 371.5,139.96 371,140.23 370.5,139.57 370,140.05 369.5,139.45 369,139.53 368.5,139.1 368,139.25 367.5,139.3 367,138.97 366.5,138.98 366,138.82 365.5,138.5 365,138.65 364.5,138.96 364,138.97 363.5,138.8 363,138.39 362.5,138.01 362,138.15 361.5,138.2 361,137.92 360.5,137.89 360,137.71 359.5,137.66 359,138.23 358.5,137.53 358,137.51 357.5,137.85 357,137.29 356.5,137.42 356,137.1 355.5,137.2 355,137.58 354.5,136.61 354,136.7 353.5,136.48 353,136.36 352.5,137.11 352,136.76 351.5,136.08 351,136.05 350.5,136.1 350,136.19 349.5,135.9 349,136.08 348.5,135 348,134.97 347.5,134.67 347,134.59 346.5,134.96 346,134.12 345.5,134.23 345,133.78 344.5,133.85 344,133.44 343.5,133.56 343,133.85 342.5,133.29 342,132.98 341.5,132.72 341,132.83 340.5,132.4 340,132.63 339.5,132.08 339,132.1 338.5,131.98 338,132.08 337.5,132.25 337,131.5 336.5,131.62 336,131.46 335.5,132.02 335,131.47 334.5,130.96 334,130.88 333.5,130.97 333,130.63 332.5,130.6 332,130.33 331.5,130.43 331,130.46 330.5,130.4 330,130 329.5,129.82 329,129.54 328.5,129.71 328,130.06 327.5,129.44 327,129.09 326.5,128.93 326,129.01 325.5,128.7 325,128.75 324.5,129.2 324,129.15 323.5,128.2 323,128.35 322.5,128 322,128.58 321.5,127.91 321,128.64 320.5,128.35 320,127.99 319.5,127.36 319,127.61 318.5,127.33 318,127.4 317.5,127.07 317,126.86 316.5,126.93 316,127.16 315.5,126.51 315,127.45 314.5,126.48 314,126.58 313.5,126.53 313,127.02 312.5,126.23 312,126.09 311.5,125.82 311,126.42 310.5,125.89 310,125.45 309.5,125.84 309,125.24 308.5,125.59 308,125.22 307.5,125.01 307,125.63 306.5,124.52 306,124.61 305.5,124.21 305,124.15 304.5,124.27 304,124.63 303.5,123.97 303,123.66 302.5,123.37 302,123.34 301.5,122.94 301,123.18 300.5,123.24 300,122.31 299.5,122.32 299,122.33 298.5,121.04 298,120.69 297.5,120.51 297,119.92 296.5,120.01 296,119.33 295.5,118.99 295,118.23 294.5,117.9 294,117.6 293.5,117.75 293,116.88 292.5,116.72 292,116.11 291.5,115.61 291,115.49 290.5,114.68 290,113.93 289.5,113.58 289,113.24 288.5,112.88 288,112.55 287.5,111.85 287,111.06 286.5,110.54 286,110.22 285.5,109.56 285,110.08 284.5,109.12 284,108.28 283.5,107.56 283,107.43 282.5,107.1 282,106.07 281.5,105.69 281,105.27 280.5,104.42 280,103.93 279.5,103.47 279,104.04 278.5,102.53 278,102.89 277.5,101.67 277,101.05 276.5,101.08 276,100.02 275.5,99.54 275,99.29 274.5,98.52 274,98.3 273.5,98.22 273,97.41 272.5,96.57 272,96.62 271.5,96.53 271,95.38 270.5,95.05 270,94.3 269.5,93.96 269,93.98 268.5,93.01 268,92.87 267.5,92.28 267,91.56 266.5,92 266,90.67 265.5,90.61 265,90.13 264.5,89.54 264,89.24 263.5,88.75 263,88.54 262.5,88.41 262,87.65 261.5,87.11 261,86.64 260.5,86.74 260,86.32 259.5,85.45 259,85.14 258.5,85.21 258,84.75 257.5,84.32 257,83.98 256.5,84.32 256,83.66 255.5,84.03 255,83.12 254.5,82.93 254,82.62 253.5,82.6 253,81.6 252.5,81.58 252,80.98 251.5,81.14 251,80.66 250.5,81.27 250,80.78 249.5,80.09 249,79.43 248.5,79.34 248,78.65 247.5,79.07 247,78.24 246.5,77.88 246,77.78 245.5,78.33 245,77.05 244.5,76.78 244,76.85 243.5,76.59 243,76.11 242.5,76.15 242,76.03 241.5,75.05 241,74.92 240.5,74.74 240,74.41 239.5,74.68 239,74.09 238.5,73.79 238,73.77 237.5,72.99 237,73.14 236.5,73.22 236,72.17 235.5,72.41 235,71.81 234.5,71.54 234,71.71 233.5,71.11 233,70.91 232.5,70.66 232,70.52 231.5,70.31 231,69.86 230.5,69.51 230,69.28 229.5,68.9 229,69.21 228.5,68.92 228,68.83 227.5,68.23 227,68.42 226.5,67.86 226,67.52 225.5,67.5 225,66.92 224.5,67.32 224,66.5 223.5,66.71 223,66.48 222.5,65.78 222,66.02 221.5,65.63 221,65.57 220.5,64.89 220,64.77 219.5,64.45 219,64.4 218.5,65.32 218,63.79 217.5,63.56 217,64.07 216.5,63.08 216,63.74 215.5,62.88 215,62.27 214.5,62.02 214,61.88 213.5,61.88 213,61.46 212.5,61.17 212,61.92 211.5,61.19 211,61.43 210.5,60.38 210,60.07 209.5,59.9 209,59.54 208.5,59.36 208,59.32 207.5,58.87 207,58.89 206.5,58.35 206,58.56 205.5,58.04 205,58.16 204.5,57.5 204,57.45 203.5,57.14 203,56.95 202.5,56.75 202,56.47 201.5,56.65 201,56.05 200.5,55.94 200,56.25 199.5,55.41 199,55.67 198.5,55.07 198,54.88 197.5,54.68 197,54.52 196.5,54.41 196,54.29 195.5,53.53 195,53.61 194.5,53.13 194,52.92 193.5,53.1 193,52.81 192.5,52.89 192,52.59 191.5,51.91 191,51.44 190.5,51.81 190,51.33 189.5,51.44 189,50.67 188.5,50.57 188,50.33 187.5,49.87 187,50.15 186.5,49.61 186,49.48 185.5,49.48 185,49.82 184.5,49.07 184,48.72 183.5,48.93 183,48.21 182.5,47.77 182,47.56 181.5,47.36 181,47.01 180.5,47.08 180,46.76 179.5,46.13 179,46.12 178.5,45.69 178,46.07 177.5,45.42 177,45.18 176.5,45.01 176,44.76 175.5,44.31 175,44.21 174.5,43.72 174,44.03 173.5,43.12 173,43.15 172.5,42.8 172,42.38 171.5,42.09 171,42.13 170.5,41.87 170,41.37 169.5,41.11 169,41.06 168.5,40.67 168,40.63 167.5,40.49 167,39.8 166.5,39.68 166,39.34 165.5,39.08 165,39.12 164.5,39.38 164,38.49 163.5,38.93 163,38.09 162.5,37.75 162,37.32 161.5,37.16 161,37.25 160.5,36.55 160,36.41 159.5,36.55 159,35.86 158.5,35.68 158,35.53 157.5,35.07 157,34.95 156.5,34.65 156,34.67 155.5,34.19 155,34.67 154.5,33.72 154,33.3 153.5,33.67 153,33.23 152.5,33.46 152,32.57 151.5,32 151,31.81 150.5,31.69 150,32.17 149.5,31.2 149,30.94 148.5,30.65 148,31.36 147.5,30.12 147,30.14 146.5,30.14 146,29.99 145.5,29.31 145,28.74 144.5,28.53 144,28.33 143.5,28.02 143,27.46 142.5,27.11 142,27.36 141.5,26.27 141,26.23 140.5,25.31 140,25.66 139.5,24.55 139,25.17 138.5,23.8 138,24.18 137.5,23.29 137,22.82 136.5,22.58 136,21.66 135.5,21.55 135,20.88 134.5,20.4 134,19.76 133.5,19.24 133,18.82 132.5,18.45 132,18.01 131.5,17.51 131,16.88 130.5,17.09 130,16.34 129.5,15.39 129,14.84 128.5,14.26 128,13.87 127.5,13.31 127,12.83 126.5,12.6 126,11.71"/>
</g>
<path d="M280.6 15.9V225.7" stroke="#111" stroke-width="1.4" stroke-dasharray="5.8 5.8" fill="none"/>
<path d="M280.6 9.6v1.2" stroke="#666" stroke-width="1.1" fill="none"/>
<g clip-path="url(#clipP)">
<polygon fill="#0a00b4" points="126,95.21 126.5,95.49 127,95.7 127.5,97.22 128,98.36 128.5,99.66 129,101.63 129.5,102.77 130,104.99 130.5,106.7 131,108.41 131.5,110.06 132,111.91 132.5,112.65 133,114.16 133.5,115.38 134,116.59 134.5,117.46 135,118.95 135.5,120.33 136,121.04 136.5,122.26 137,123.82 137.5,124.12 138,125.84 138.5,127.19 139,128.39 139.5,129.37 140,130.81 140.5,131.8 141,132.66 141.5,133.14 142,134.47 142.5,135.34 143,136.04 143.5,136.38 144,137.74 144.5,138.64 145,138.99 145.5,140.5 146,141.43 146.5,142.03 147,142.98 147.5,143.78 148,144.83 148.5,145.57 149,146.78 149.5,147.72 150,148.98 150.5,149.73 151,150.82 151.5,151.62 152,152.44 152.5,153.16 153,154.18 153.5,155.26 154,155.92 154.5,156.89 155,158.17 155.5,158.9 156,159.74 156.5,160.61 157,161.53 157.5,162.51 158,163.6 158.5,164.74 159,165.95 159.5,166.95 160,167.82 160.5,168.95 161,169.88 161.5,170.85 162,171.33 162.5,171.93 163,172.6 163.5,172.99 164,173.08 164.5,173.12 165,173.87 165.5,173.76 166,174.35 166.5,174.04 167,174.77 167.5,174.7 168,175.39 168.5,175.4 169,176 169.5,175.43 170,176.38 170.5,176.5 171,176.77 171.5,177.27 172,177.88 172.5,178.39 173,178.98 173.5,179.95 174,180.92 174.5,181.58 175,185.36 175.5,192.95 176,206.97 176.5,207.28 177,208.71 177.5,209.97 178,210.15 178.5,210.78 179,211.21 179.5,211.8 180,212.2 180.5,212.43 181,212.53 181.5,212.06 182,212.43 182.5,212.76 183,212.64 183.5,212.56 184,212.64 184.5,212.82 185,212.56 185.5,212.68 186,212.18 186.5,212.84 187,212.56 187.5,212.85 188,212.15 188.5,212.84 189,212.91 189.5,212.97 190,212.43 190.5,212.43 191,212.94 191.5,212.68 192,212.97 192.5,212.76 193,213.03 193.5,212.94 194,212.81 194.5,212.99 195,212.92 195.5,212.84 196,212.97 196.5,212.82 197,212.52 197.5,213 198,212.54 198.5,212.91 199,213.02 199.5,212.92 200,213.1 200.5,213.06 201,212.88 201.5,213.02 202,212.85 202.5,212.94 203,212.99 203.5,213.02 204,213.14 204.5,212.66 205,212.89 205.5,213.18 206,213 206.5,212.99 207,213.19 207.5,213.18 208,213 208.5,213.17 209,213 209.5,213 210,213.13 210.5,213.2 211,213.15 211.5,212.91 212,213.26 212.5,212.69 213,213.11 213.5,213.2 214,213.34 214.5,213.17 215,213.33 215.5,212.79 216,213.17 216.5,213.11 217,213.05 217.5,213.42 218,213.25 218.5,213.02 219,213.1 219.5,213.36 220,213.32 220.5,213.07 221,213.48 221.5,213.07 222,213.42 222.5,213.48 223,213.1 223.5,213.25 224,213.48 224.5,213.58 225,213.23 225.5,213.58 226,213.23 226.5,213.32 227,213.56 227.5,213.47 228,213.28 228.5,213.58 229,212.9 229.5,213.5 230,213.39 230.5,213.51 231,213.68 231.5,213.56 232,213.24 232.5,213.39 233,213.5 233.5,213.39 234,213.71 234.5,213.5 235,213.73 235.5,213.73 236,213.7 236.5,213.21 237,213.68 237.5,213.3 238,213.56 238.5,213.51 239,213.1 239.5,213.56 240,213.3 240.5,213.79 241,213.65 241,219.65 240.5,219.21 240,219.16 239.5,219.74 239,219.19 238.5,219.31 238,219.16 237.5,219.07 237,219.65 236.5,219.08 236,219.2 235.5,218.95 235,218.98 234.5,219.26 234,219.24 233.5,219.16 233,219.43 232.5,218.95 232,219.6 231.5,218.88 231,219 230.5,219.12 230,219 229.5,218.89 229,219.08 228.5,218.96 228,219.32 227.5,219.1 227,219.5 226.5,219.35 226,219.02 225.5,219.62 225,219.36 224.5,218.86 224,219.17 223.5,218.8 223,218.88 222.5,218.91 222,219.16 221.5,219.05 221,219.19 220.5,219.1 220,218.79 219.5,219.24 219,219.83 218.5,218.86 218,219.16 217.5,218.69 217,218.64 216.5,218.92 216,219.12 215.5,218.62 215,218.78 214.5,218.73 214,219.12 213.5,218.63 213,218.95 212.5,218.66 212,219.22 211.5,218.53 211,219.42 210.5,218.65 210,218.97 209.5,218.45 209,218.57 208.5,218.61 208,218.65 207.5,218.69 207,218.53 206.5,218.55 206,218.61 205.5,219.01 205,218.55 204.5,218.83 204,218.96 203.5,218.32 203,218.83 202.5,218.37 202,218.9 201.5,218.27 201,218.29 200.5,218.29 200,218.34 199.5,218.21 199,218.47 198.5,218.52 198,218.26 197.5,218.21 197,218.16 196.5,218.09 196,218.04 195.5,218 195,218.46 194.5,218.32 194,217.99 193.5,218.15 193,217.95 192.5,217.73 192,217.69 191.5,217.76 191,217.68 190.5,217.62 190,217.89 189.5,217.63 189,217.46 188.5,217.46 188,218.1 187.5,217.61 187,217.46 186.5,217.6 186,217.42 185.5,217.36 185,217.37 184.5,217.24 184,217.34 183.5,217.49 183,217.36 182.5,217.62 182,217.11 181.5,217.91 181,217.39 180.5,217.66 180,217.59 179.5,217.01 179,217.18 178.5,217.24 178,217.29 177.5,216.8 177,217.15 176.5,217.17 176,216.82 175.5,216.26 175,216.06 174.5,215.78 174,214.71 173.5,214.1 173,213.55 172.5,212.95 172,212.51 171.5,211.88 171,211.2 170.5,211.26 170,210.2 169.5,210.21 169,209.96 168.5,208.93 168,208.77 167.5,207.97 167,207.6 166.5,206.86 166,206.27 165.5,205.91 165,205.1 164.5,204.17 164,203.69 163.5,202.74 163,202.3 162.5,201.26 162,200.25 161.5,199.41 161,198.4 160.5,197.12 160,196.53 159.5,195.24 159,193.78 158.5,192.73 158,191.83 157.5,190.5 157,189.75 156.5,188.25 156,187.26 155.5,185.89 155,184.67 154.5,183.61 154,182.3 153.5,180.78 153,179.53 152.5,178.48 152,177.04 151.5,175.79 151,174.61 150.5,173.42 150,172.62 149.5,171.58 149,170.92 148.5,170.59 148,169 147.5,168.22 147,166.66 146.5,165.34 146,164.14 145.5,162.75 145,161.58 144.5,160.55 144,159.03 143.5,158.01 143,156.78 142.5,155.41 142,154.16 141.5,152.84 141,151.68 140.5,150.4 140,149.05 139.5,147.73 139,146.37 138.5,145.32 138,143.74 137.5,142.33 137,141.71 136.5,140.08 136,138.56 135.5,137.42 135,135.72 134.5,134.34 134,132.69 133.5,131.54 133,129.99 132.5,128.54 132,127.35 131.5,125.91 131,124 130.5,122.52 130,120.93 129.5,119.31 129,117.9 128.5,116.02 128,113.93 127.5,111.38 127,108.07 126.5,104.64 126,100.63"/>
<path d="M240 218.6 L385.3 218.8" fill="none" stroke="#0a00b4" stroke-width="2.7" stroke-linejoin="round" stroke-linecap="butt"/>
</g>
<path d="M126 7.4h3.2M126 18.31h3.2M126 40.14h3.2M126 51.06h3.2M126 61.97h3.2M126 83.81h3.2M126 94.72h3.2M126 105.63h3.2M126 127.47h3.2M126 138.38h3.2M126 149.29h3.2M126 171.12h3.2M126 182.04h3.2M126 192.95h3.2M126 214.78h3.2M126 225.7h3.2M384 217.15h-3.2M384 208.6h-3.2M384 200.06h-3.2M384 191.51h-3.2M384 174.41h-3.2M384 165.86h-3.2M384 157.32h-3.2M384 148.77h-3.2M384 131.67h-3.2M384 123.12h-3.2M384 114.58h-3.2M384 106.03h-3.2M384 88.93h-3.2M384 80.38h-3.2M384 71.84h-3.2M384 63.29h-3.2M384 46.19h-3.2M384 37.64h-3.2M384 29.1h-3.2M384 20.55h-3.2M138.9 225.7v-3M151.8 225.7v-3M164.7 225.7v-3M177.6 225.7v-3M203.4 225.7v-3M216.3 225.7v-3M229.2 225.7v-3M242.1 225.7v-3M267.9 225.7v-3M280.8 225.7v-3M293.7 225.7v-3M306.6 225.7v-3M332.4 225.7v-3M345.3 225.7v-3M358.2 225.7v-3M371.1 225.7v-3" stroke="#8c8c8c" stroke-width="0.6" fill="none"/>
<path d="M126 29.23h6M126 72.89h6M126 116.55h6M126 160.21h6M126 203.87h6M384 225.7h-6.2M384 182.96h-6.2M384 140.22h-6.2M384 97.48h-6.2M384 54.74h-6.2M384 12h-6.2M190.5 225.7v-6M255 225.7v-6M319.5 225.7v-6" stroke="#1c1c1c" stroke-width="1.3" fill="none"/>
<path d="M126 7.2V226.6" stroke="#141414" stroke-width="1.7" fill="none"/>
<text transform="translate(41 36.33) scale(1 1.07)" font-size="20.1">4.0x10<tspan dx="0.9" dy="-9.8" font-size="11.6">+07</tspan></text>
<text transform="translate(41 79.99) scale(1 1.07)" font-size="20.1">2.0x10<tspan dx="0.9" dy="-9.8" font-size="11.6">+07</tspan></text>
<text transform="translate(41 123.65) scale(1 1.07)" font-size="20.1">0.0x10<tspan dx="0.9" dy="-9.8" font-size="11.6">+00</tspan></text>
<text transform="translate(34.6 167.31) scale(1 1.07)" font-size="20.1">-2.0x10<tspan dx="0.9" dy="-9.8" font-size="11.6">+07</tspan></text>
<text transform="translate(34.6 210.97) scale(1 1.07)" font-size="20.1">-4.0x10<tspan dx="0.9" dy="-9.8" font-size="11.6">+07</tspan></text>
<text transform="translate(389.6 19.1) scale(1 1.07)" font-size="20.1">2.5x10<tspan dx="0.9" dy="-9.8" font-size="11.6">+08</tspan></text>
<text transform="translate(389.6 61.84) scale(1 1.07)" font-size="20.1">2.0x10<tspan dx="0.9" dy="-9.8" font-size="11.6">+08</tspan></text>
<text transform="translate(389.6 104.58) scale(1 1.07)" font-size="20.1">1.5x10<tspan dx="0.9" dy="-9.8" font-size="11.6">+08</tspan></text>
<text transform="translate(389.6 147.32) scale(1 1.07)" font-size="20.1">1.0x10<tspan dx="0.9" dy="-9.8" font-size="11.6">+08</tspan></text>
<text transform="translate(389.6 190.06) scale(1 1.07)" font-size="20.1">5.0x10<tspan dx="0.9" dy="-9.8" font-size="11.6">+07</tspan></text>
<text transform="translate(389.6 232.8) scale(1 1.07)" font-size="20.1">0.0x10<tspan dx="0.9" dy="-9.8" font-size="11.6">+00</tspan></text>
<text transform="translate(126 252.2) scale(1 1.07)" font-size="20.1" text-anchor="middle">0</text>
<text transform="translate(190.5 252.2) scale(1 1.07)" font-size="20.1" text-anchor="middle">250</text>
<text transform="translate(255 252.2) scale(1 1.07)" font-size="20.1" text-anchor="middle">500</text>
<text transform="translate(319.5 252.2) scale(1 1.07)" font-size="20.1" text-anchor="middle">750</text>
<text transform="translate(384 252.2) scale(1 1.07)" font-size="20.1" text-anchor="middle">1000</text>
<text transform="translate(255 279.6) scale(1 1.07)" font-size="20.3" text-anchor="middle">Time [yr]</text>
<text transform="translate(19.2 225.6) rotate(-90) scale(1 1.07)" font-size="19.9" textLength="217.0" lengthAdjust="spacing">Groundwater flow [m<tspan dy="-9.6" font-size="10.9">3</tspan><tspan dy="9.6">yr</tspan><tspan dy="-9.6" font-size="10.9">-1</tspan><tspan dy="9.6">]</tspan></text>
<text transform="translate(494.4 227.2) rotate(-90) scale(1 1.07)" font-size="20.3" textLength="219.6" lengthAdjust="spacing">Ice volume under lake [m<tspan dy="-9.6" font-size="10.9">3</tspan><tspan dy="9.6">]</tspan></text>
<text transform="translate(4.8 269.4) scale(1 0.97)" font-size="24.8" font-weight="bold">(c)</text>
</g>
<path d="M84.8 921.9H166.2" stroke="#c2474a" stroke-width="1.9" fill="none"/>
<text transform="translate(179.6 927) scale(1 1.07)" font-size="18">Supra-permafrost flow</text>
<path d="M84.8 943.7H166.2" stroke="#6ab52e" stroke-width="2" fill="none"/>
<text transform="translate(179.6 948.7) scale(1 1.07)" font-size="18">Lake exchange flow</text>
<path d="M84.8 964.9H166.2" stroke="#ff9a3a" stroke-width="2" fill="none"/>
<text transform="translate(179.6 970.4) scale(1 1.07)" font-size="18">Sub-permafrost flow</text>
<path d="M84.8 986.6H166.2" stroke="#3426b6" stroke-width="2" fill="none"/>
<text transform="translate(179.6 992.1) scale(1 1.07)" font-size="18">Ice under lake (Ice sat. &gt; 0.9)</text>
<path d="M84.8 1008.3H166.2" stroke="#3193ff" stroke-width="1.5" fill="none"/>
<text transform="translate(179.6 1013.8) scale(1 1.07)" font-size="18">Ice under lake (Ice sat. &gt; 0.1)</text>
<rect x="229.4" y="1018.6" width="3.4" height="1.6" fill="#ff8a1e"/>
<rect x="229.4" y="1021" width="3.4" height="1.6" fill="#3f8df5"/>
<rect x="229.4" y="1022.6" width="3.4" height="1.8" fill="#1a3fd8"/>
</svg>
</body></html>
